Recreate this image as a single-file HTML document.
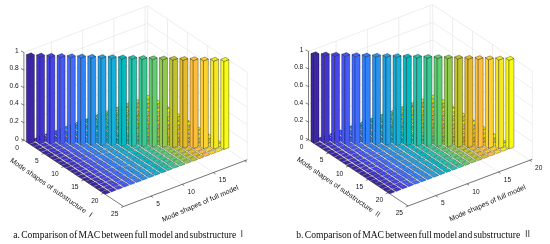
<!DOCTYPE html>
<html><head><meta charset="utf-8"><title>MAC comparison</title>
<style>html,body{margin:0;padding:0;background:#fff}svg{display:block}</style></head>
<body>
<svg width="550" height="244" viewBox="0 0 550 244">
<rect width="550" height="244" fill="#fff"/>
<g fill="none" stroke="#dcdcdc" stroke-width="0.5">
<path d="M51.39 42.12L51.39 129.82L150.99 196.12"/>
<path d="M82.63 30.33L82.63 118.03L182.23 184.33"/>
<path d="M113.86 18.54L113.86 106.24L213.46 172.54"/>
<path d="M145.10 6.74L145.10 94.44L244.70 160.74"/>
<path d="M147.60 5.80L147.60 93.50L23.90 140.20"/>
<path d="M167.52 19.06L167.52 106.76L43.82 153.46"/>
<path d="M187.44 32.32L187.44 120.02L63.74 166.72"/>
<path d="M207.36 45.58L207.36 133.28L83.66 179.98"/>
<path d="M227.28 58.84L227.28 146.54L103.58 193.24"/>
<path d="M247.20 72.10L247.20 159.80L123.50 206.50"/>
<path d="M23.90 122.66L147.60 75.96L247.20 142.26"/>
<path d="M23.90 105.12L147.60 58.42L247.20 124.72"/>
<path d="M23.90 87.58L147.60 40.88L247.20 107.18"/>
<path d="M23.90 70.04L147.60 23.34L247.20 89.64"/>
<path d="M23.90 52.50L147.60 5.80L247.20 72.10"/>
</g>
<g stroke="#000" stroke-linejoin="round">
<polygon fill="#f9fb15" stroke-width="0.36" stroke-opacity="0.90" points="145.05,96.95 148.24,99.08 153.12,97.24 153.12,96.87 149.93,94.75 145.05,96.59"/>
<polygon fill="#f5e725" stroke-width="0.36" stroke-opacity="0.90" points="138.81,99.31 141.99,101.43 146.87,99.59 146.87,99.21 143.68,97.09 138.81,98.93"/>
<polygon fill="#fbd22f" stroke-width="0.36" stroke-opacity="0.90" points="132.56,101.67 135.75,103.79 140.62,101.95 140.62,101.76 137.43,99.64 132.56,101.48"/>
<polygon fill="#febe3c" stroke-width="0.36" stroke-opacity="0.90" points="126.31,104.03 129.50,106.15 134.37,104.31 134.37,103.99 131.19,101.87 126.31,103.71"/>
<polygon fill="#e4bb2c" stroke-width="0.36" stroke-opacity="0.90" points="120.06,106.39 123.25,108.51 128.13,106.67 128.13,106.42 124.94,104.30 120.06,106.14"/>
<polygon fill="#bec32e" stroke-width="0.36" stroke-opacity="0.90" points="113.82,108.75 117.00,110.87 121.88,109.03 121.88,108.90 118.69,106.78 113.82,108.62"/>
<polygon fill="#91ca4c" stroke-width="0.36" stroke-opacity="0.90" points="107.57,111.11 110.76,113.23 115.63,111.39 115.63,111.06 112.44,108.93 107.57,110.77"/>
<polygon fill="#61cd71" stroke-width="0.36" stroke-opacity="0.90" points="101.32,113.46 104.51,115.59 109.38,113.75 109.38,113.50 106.20,111.38 101.32,113.22"/>
<polygon fill="#3bc993" stroke-width="0.36" stroke-opacity="0.90" points="95.08,115.82 98.26,117.94 103.14,116.11 103.14,115.75 99.95,113.63 95.08,115.47"/>
<polygon fill="#25c2ad" stroke-width="0.36" stroke-opacity="0.90" points="88.83,118.18 92.01,120.30 96.89,118.46 96.89,118.32 93.70,116.20 88.83,118.04"/>
<polygon fill="#02bac4" stroke-width="0.36" stroke-opacity="0.90" points="82.58,120.54 85.77,122.66 90.64,120.82 90.64,120.67 87.45,118.54 82.58,120.38"/>
<polygon fill="#15afd9" stroke-width="0.36" stroke-opacity="0.90" points="76.33,122.90 79.52,125.02 84.39,123.18 84.39,122.84 81.21,120.72 76.33,122.56"/>
<polygon fill="#22a1e4" stroke-width="0.36" stroke-opacity="0.90" points="70.09,125.26 73.27,127.38 78.15,125.54 78.15,125.24 74.96,123.11 70.09,124.95"/>
<polygon fill="#2b91ef" stroke-width="0.36" stroke-opacity="0.90" points="63.84,127.62 67.02,129.74 71.90,127.90 71.90,127.65 68.71,125.53 63.84,127.37"/>
<polygon fill="#307ffb" stroke-width="0.36" stroke-opacity="0.90" points="57.59,129.97 60.78,132.10 65.65,130.26 65.65,129.99 62.46,127.87 57.59,129.71"/>
<polygon fill="#416bfe" stroke-width="0.36" stroke-opacity="0.90" points="51.34,132.33 54.53,134.45 59.40,132.62 59.40,132.42 56.22,130.29 51.34,132.13"/>
<polygon fill="#4758f8" stroke-width="0.36" stroke-opacity="0.90" points="45.10,134.69 48.28,136.81 53.16,134.97 53.16,134.64 49.97,132.52 45.10,134.36"/>
<polygon fill="#4745e9" stroke-width="0.36" stroke-opacity="0.90" points="38.85,137.05 42.04,139.17 46.91,137.33 46.91,136.98 43.72,134.86 38.85,136.70"/>
<polygon fill="#4434ce" stroke-width="0.36" stroke-opacity="0.90" points="32.60,139.41 35.79,141.53 40.66,139.69 40.66,139.52 37.47,137.40 32.60,139.24"/>
<g fill="#3e26a8" stroke-width="0.36" stroke-opacity="0.90"><polygon points="26.35,141.77 29.54,143.89 29.54,56.80 26.35,54.68"/><polygon points="29.54,143.89 34.41,142.05 34.41,54.96 29.54,56.80"/><polygon points="26.35,54.68 29.54,56.80 34.41,54.96 31.23,52.84"/></g>
<polygon fill="#f9fb15" stroke-width="0.36" stroke-opacity="0.90" points="149.04,99.61 152.23,101.73 157.10,99.89 157.10,99.61 153.91,97.49 149.04,99.33"/>
<polygon fill="#f5e725" stroke-width="0.36" stroke-opacity="0.90" points="142.79,101.97 145.98,104.09 150.85,102.25 150.85,101.90 147.66,99.77 142.79,101.61"/>
<polygon fill="#fbd22f" stroke-width="0.36" stroke-opacity="0.90" points="136.54,104.32 139.73,106.45 144.60,104.61 144.60,104.47 141.42,102.35 136.54,104.19"/>
<polygon fill="#febe3c" stroke-width="0.36" stroke-opacity="0.90" points="130.30,106.68 133.48,108.80 138.36,106.96 138.36,106.76 135.17,104.63 130.30,106.47"/>
<polygon fill="#e4bb2c" stroke-width="0.36" stroke-opacity="0.90" points="124.05,109.04 127.24,111.16 132.11,109.32 132.11,109.07 128.92,106.95 124.05,108.79"/>
<polygon fill="#bec32e" stroke-width="0.36" stroke-opacity="0.90" points="117.80,111.40 120.99,113.52 125.86,111.68 125.86,111.49 122.67,109.37 117.80,111.21"/>
<polygon fill="#91ca4c" stroke-width="0.36" stroke-opacity="0.90" points="111.55,113.76 114.74,115.88 119.61,114.04 119.61,113.85 116.43,111.73 111.55,113.57"/>
<polygon fill="#61cd71" stroke-width="0.36" stroke-opacity="0.90" points="105.31,116.12 108.49,118.24 113.37,116.40 113.37,116.21 110.18,114.08 105.31,115.92"/>
<polygon fill="#3bc993" stroke-width="0.36" stroke-opacity="0.90" points="99.06,118.48 102.25,120.60 107.12,118.76 107.12,118.50 103.93,116.37 99.06,118.21"/>
<polygon fill="#25c2ad" stroke-width="0.36" stroke-opacity="0.90" points="92.81,120.83 96.00,122.96 100.87,121.12 100.87,120.87 97.68,118.75 92.81,120.59"/>
<polygon fill="#02bac4" stroke-width="0.36" stroke-opacity="0.90" points="86.56,123.19 89.75,125.31 94.62,123.47 94.62,123.28 91.44,121.16 86.56,123.00"/>
<polygon fill="#15afd9" stroke-width="0.36" stroke-opacity="0.90" points="80.32,125.55 83.50,127.67 88.38,125.83 88.38,125.69 85.19,123.57 80.32,125.41"/>
<polygon fill="#22a1e4" stroke-width="0.36" stroke-opacity="0.90" points="74.07,127.91 77.26,130.03 82.13,128.19 82.13,127.95 78.94,125.83 74.07,127.67"/>
<polygon fill="#2b91ef" stroke-width="0.36" stroke-opacity="0.90" points="67.82,130.27 71.01,132.39 75.88,130.55 75.88,130.36 72.69,128.24 67.82,130.08"/>
<polygon fill="#307ffb" stroke-width="0.36" stroke-opacity="0.90" points="61.57,132.63 64.76,134.75 69.63,132.91 69.63,132.68 66.45,130.56 61.57,132.39"/>
<polygon fill="#416bfe" stroke-width="0.36" stroke-opacity="0.90" points="55.33,134.99 58.51,137.11 63.39,135.27 63.39,134.89 60.20,132.77 55.33,134.61"/>
<polygon fill="#4758f8" stroke-width="0.36" stroke-opacity="0.90" points="49.08,137.34 52.27,139.47 57.14,137.63 57.14,137.35 53.95,135.23 49.08,137.07"/>
<polygon fill="#4745e9" stroke-width="0.36" stroke-opacity="0.90" points="42.83,139.70 46.02,141.82 50.89,139.98 50.89,139.85 47.70,137.72 42.83,139.56"/>
<g fill="#4434ce" stroke-width="0.36" stroke-opacity="0.90"><polygon points="36.58,142.06 39.77,144.18 39.77,57.05 36.58,54.92"/><polygon points="39.77,144.18 44.64,142.34 44.64,55.21 39.77,57.05"/><polygon points="36.58,54.92 39.77,57.05 44.64,55.21 41.46,53.08"/></g>
<polygon fill="#3e26a8" stroke-width="0.30" stroke-opacity="0.90" points="30.34,144.42 33.52,146.54 38.40,144.70 38.40,144.56 35.21,142.44 30.34,144.28"/>
<polygon fill="#f9fb15" stroke-width="0.36" stroke-opacity="0.90" points="153.02,102.26 156.21,104.38 161.08,102.54 161.08,102.40 157.90,100.28 153.02,102.12"/>
<polygon fill="#f5e725" stroke-width="0.36" stroke-opacity="0.90" points="146.78,104.62 149.96,106.74 154.84,104.90 154.84,104.61 151.65,102.49 146.78,104.33"/>
<polygon fill="#fbd22f" stroke-width="0.36" stroke-opacity="0.90" points="140.53,106.98 143.72,109.10 148.59,107.26 148.59,106.99 145.40,104.87 140.53,106.71"/>
<polygon fill="#febe3c" stroke-width="0.36" stroke-opacity="0.90" points="134.28,109.33 137.47,111.46 142.34,109.62 142.34,109.26 139.15,107.14 134.28,108.98"/>
<polygon fill="#e4bb2c" stroke-width="0.36" stroke-opacity="0.90" points="128.03,111.69 131.22,113.81 136.09,111.97 136.09,111.61 132.91,109.49 128.03,111.33"/>
<polygon fill="#bec32e" stroke-width="0.36" stroke-opacity="0.90" points="121.79,114.05 124.97,116.17 129.85,114.33 129.85,114.05 126.66,111.93 121.79,113.77"/>
<polygon fill="#91ca4c" stroke-width="0.36" stroke-opacity="0.90" points="115.54,116.41 118.73,118.53 123.60,116.69 123.60,116.48 120.41,114.36 115.54,116.20"/>
<polygon fill="#61cd71" stroke-width="0.36" stroke-opacity="0.90" points="109.29,118.77 112.48,120.89 117.35,119.05 117.35,118.74 114.16,116.62 109.29,118.46"/>
<polygon fill="#3bc993" stroke-width="0.36" stroke-opacity="0.90" points="103.04,121.13 106.23,123.25 111.10,121.41 111.10,121.06 107.92,118.94 103.04,120.78"/>
<polygon fill="#25c2ad" stroke-width="0.36" stroke-opacity="0.90" points="96.80,123.49 99.98,125.61 104.86,123.77 104.86,123.53 101.67,121.40 96.80,123.24"/>
<polygon fill="#02bac4" stroke-width="0.36" stroke-opacity="0.90" points="90.55,125.84 93.74,127.97 98.61,126.13 98.61,125.75 95.42,123.63 90.55,125.47"/>
<polygon fill="#15afd9" stroke-width="0.36" stroke-opacity="0.90" points="84.30,128.20 87.49,130.32 92.36,128.48 92.36,128.17 89.17,126.04 84.30,127.88"/>
<polygon fill="#22a1e4" stroke-width="0.36" stroke-opacity="0.90" points="78.05,130.56 81.24,132.68 86.11,130.84 86.11,130.52 82.93,128.40 78.05,130.24"/>
<polygon fill="#2b91ef" stroke-width="0.36" stroke-opacity="0.90" points="71.81,132.92 74.99,135.04 79.87,133.20 79.87,132.98 76.68,130.86 71.81,132.70"/>
<polygon fill="#307ffb" stroke-width="0.36" stroke-opacity="0.90" points="65.56,135.28 68.75,137.40 73.62,135.56 73.62,135.40 70.43,133.28 65.56,135.12"/>
<polygon fill="#416bfe" stroke-width="0.36" stroke-opacity="0.90" points="59.31,137.64 62.50,139.76 67.37,137.92 67.37,137.56 64.18,135.44 59.31,137.28"/>
<polygon fill="#4758f8" stroke-width="0.36" stroke-opacity="0.90" points="53.06,140.00 56.25,142.12 61.12,140.28 61.12,139.89 57.94,137.76 53.06,139.60"/>
<g fill="#4745e9" stroke-width="0.36" stroke-opacity="0.90"><polygon points="46.82,142.35 50.00,144.48 50.00,57.29 46.82,55.17"/><polygon points="50.00,144.48 54.88,142.64 54.88,55.45 50.00,57.29"/><polygon points="46.82,55.17 50.00,57.29 54.88,55.45 51.69,53.33"/></g>
<polygon fill="#4434ce" stroke-width="0.30" stroke-opacity="0.90" points="40.57,144.71 43.76,146.83 48.63,144.99 48.63,144.81 45.44,142.69 40.57,144.53"/>
<polygon fill="#3e26a8" stroke-width="0.30" stroke-opacity="0.90" points="34.32,147.07 37.51,149.19 42.38,147.35 42.38,147.05 39.19,144.93 34.32,146.77"/>
<polygon fill="#f9fb15" stroke-width="0.36" stroke-opacity="0.90" points="157.01,104.91 160.19,107.03 165.07,105.19 165.07,104.90 161.88,102.78 157.01,104.62"/>
<polygon fill="#f5e725" stroke-width="0.36" stroke-opacity="0.90" points="150.76,107.27 153.95,109.39 158.82,107.55 158.82,107.16 155.63,105.04 150.76,106.88"/>
<polygon fill="#fbd22f" stroke-width="0.36" stroke-opacity="0.90" points="144.51,109.63 147.70,111.75 152.57,109.91 152.57,109.59 149.38,107.47 144.51,109.31"/>
<polygon fill="#febe3c" stroke-width="0.36" stroke-opacity="0.90" points="138.26,111.99 141.45,114.11 146.32,112.27 146.32,112.13 143.14,110.00 138.26,111.84"/>
<polygon fill="#e4bb2c" stroke-width="0.36" stroke-opacity="0.90" points="132.02,114.34 135.20,116.47 140.08,114.63 140.08,114.49 136.89,112.37 132.02,114.21"/>
<polygon fill="#bec32e" stroke-width="0.36" stroke-opacity="0.90" points="125.77,116.70 128.96,118.83 133.83,116.99 133.83,116.72 130.64,114.60 125.77,116.44"/>
<polygon fill="#91ca4c" stroke-width="0.36" stroke-opacity="0.90" points="119.52,119.06 122.71,121.18 127.58,119.34 127.58,119.11 124.40,116.99 119.52,118.83"/>
<polygon fill="#61cd71" stroke-width="0.36" stroke-opacity="0.90" points="113.27,121.42 116.46,123.54 121.33,121.70 121.33,121.43 118.15,119.31 113.27,121.15"/>
<polygon fill="#3bc993" stroke-width="0.36" stroke-opacity="0.90" points="107.03,123.78 110.21,125.90 115.09,124.06 115.09,123.72 111.90,121.60 107.03,123.44"/>
<polygon fill="#25c2ad" stroke-width="0.36" stroke-opacity="0.90" points="100.78,126.14 103.97,128.26 108.84,126.42 108.84,126.15 105.65,124.03 100.78,125.87"/>
<polygon fill="#02bac4" stroke-width="0.36" stroke-opacity="0.90" points="94.53,128.50 97.72,130.62 102.59,128.78 102.59,128.53 99.41,126.41 94.53,128.25"/>
<polygon fill="#15afd9" stroke-width="0.36" stroke-opacity="0.90" points="88.28,130.85 91.47,132.98 96.34,131.14 96.34,130.91 93.16,128.79 88.28,130.62"/>
<polygon fill="#22a1e4" stroke-width="0.36" stroke-opacity="0.90" points="82.04,133.21 85.22,135.34 90.10,133.50 90.10,133.19 86.91,131.06 82.04,132.90"/>
<polygon fill="#2b91ef" stroke-width="0.36" stroke-opacity="0.90" points="75.79,135.57 78.98,137.69 83.85,135.85 83.85,135.54 80.66,133.42 75.79,135.26"/>
<polygon fill="#307ffb" stroke-width="0.36" stroke-opacity="0.90" points="69.54,137.93 72.73,140.05 77.60,138.21 77.60,137.94 74.42,135.82 69.54,137.65"/>
<polygon fill="#416bfe" stroke-width="0.36" stroke-opacity="0.90" points="63.29,140.29 66.48,142.41 71.36,140.57 71.36,140.39 68.17,138.27 63.29,140.11"/>
<g fill="#4758f8" stroke-width="0.36" stroke-opacity="0.90"><polygon points="57.05,142.65 60.23,144.77 60.23,57.53 57.05,55.41"/><polygon points="60.23,144.77 65.11,142.93 65.11,55.69 60.23,57.53"/><polygon points="57.05,55.41 60.23,57.53 65.11,55.69 61.92,53.57"/></g>
<polygon fill="#4745e9" stroke-width="0.30" stroke-opacity="0.90" points="50.80,145.01 53.99,147.13 58.86,145.29 58.86,145.05 55.67,142.93 50.80,144.77"/>
<polygon fill="#4434ce" stroke-width="0.30" stroke-opacity="0.90" points="44.55,147.37 47.74,149.49 52.61,147.65 52.61,147.31 49.43,145.18 44.55,147.02"/>
<polygon fill="#3e26a8" stroke-width="0.30" stroke-opacity="0.90" points="38.30,149.72 41.49,151.85 46.37,150.01 46.37,149.81 43.18,147.69 38.30,149.53"/>
<polygon fill="#f9fb15" stroke-width="0.36" stroke-opacity="0.90" points="160.99,107.56 164.18,109.68 169.05,107.84 169.05,107.48 165.86,105.36 160.99,107.20"/>
<polygon fill="#f5e725" stroke-width="0.36" stroke-opacity="0.90" points="154.74,109.92 157.93,112.04 162.80,110.20 162.80,109.86 159.62,107.73 154.74,109.57"/>
<polygon fill="#fbd22f" stroke-width="0.36" stroke-opacity="0.90" points="148.50,112.28 151.68,114.40 156.56,112.56 156.56,112.22 153.37,110.10 148.50,111.94"/>
<polygon fill="#febe3c" stroke-width="0.36" stroke-opacity="0.90" points="142.25,114.64 145.44,116.76 150.31,114.92 150.31,114.79 147.12,112.67 142.25,114.51"/>
<polygon fill="#e4bb2c" stroke-width="0.36" stroke-opacity="0.90" points="136.00,117.00 139.19,119.12 144.06,117.28 144.06,116.90 140.87,114.77 136.00,116.61"/>
<polygon fill="#bec32e" stroke-width="0.36" stroke-opacity="0.90" points="129.75,119.36 132.94,121.48 137.81,119.64 137.81,119.36 134.63,117.24 129.75,119.08"/>
<polygon fill="#91ca4c" stroke-width="0.36" stroke-opacity="0.90" points="123.51,121.71 126.69,123.84 131.57,122.00 131.57,121.79 128.38,119.67 123.51,121.51"/>
<polygon fill="#61cd71" stroke-width="0.36" stroke-opacity="0.90" points="117.26,124.07 120.45,126.19 125.32,124.35 125.32,124.10 122.13,121.98 117.26,123.82"/>
<polygon fill="#3bc993" stroke-width="0.36" stroke-opacity="0.90" points="111.01,126.43 114.20,128.55 119.07,126.71 119.07,126.43 115.88,124.31 111.01,126.15"/>
<polygon fill="#25c2ad" stroke-width="0.36" stroke-opacity="0.90" points="104.76,128.79 107.95,130.91 112.82,129.07 112.82,128.69 109.64,126.57 104.76,128.41"/>
<polygon fill="#02bac4" stroke-width="0.36" stroke-opacity="0.90" points="98.52,131.15 101.70,133.27 106.58,131.43 106.58,131.16 103.39,129.04 98.52,130.88"/>
<polygon fill="#15afd9" stroke-width="0.36" stroke-opacity="0.90" points="92.27,133.51 95.46,135.63 100.33,133.79 100.33,133.60 97.14,131.47 92.27,133.31"/>
<polygon fill="#22a1e4" stroke-width="0.36" stroke-opacity="0.90" points="86.02,135.87 89.21,137.99 94.08,136.15 94.08,135.79 90.89,133.67 86.02,135.51"/>
<polygon fill="#2b91ef" stroke-width="0.36" stroke-opacity="0.90" points="79.77,138.22 82.96,140.35 87.83,138.51 87.83,138.23 84.65,136.11 79.77,137.95"/>
<polygon fill="#307ffb" stroke-width="0.36" stroke-opacity="0.90" points="73.53,140.58 76.71,142.70 81.59,140.86 81.59,140.53 78.40,138.41 73.53,140.25"/>
<g fill="#416bfe" stroke-width="0.36" stroke-opacity="0.90"><polygon points="67.28,142.94 70.47,145.06 70.47,57.77 67.28,55.65"/><polygon points="70.47,145.06 75.34,143.22 75.34,55.93 70.47,57.77"/><polygon points="67.28,55.65 70.47,57.77 75.34,55.93 72.15,53.81"/></g>
<polygon fill="#4758f8" stroke-width="0.30" stroke-opacity="0.90" points="61.03,145.30 64.22,147.42 69.09,145.58 69.09,145.19 65.90,143.07 61.03,144.91"/>
<polygon fill="#4745e9" stroke-width="0.30" stroke-opacity="0.90" points="54.78,147.66 57.97,149.78 62.84,147.94 62.84,147.68 59.66,145.56 54.78,147.39"/>
<polygon fill="#4434ce" stroke-width="0.30" stroke-opacity="0.90" points="48.54,150.02 51.72,152.14 56.60,150.30 56.60,150.12 53.41,148.00 48.54,149.84"/>
<polygon fill="#3e26a8" stroke-width="0.30" stroke-opacity="0.90" points="42.29,152.38 45.48,154.50 50.35,152.66 50.35,152.42 47.16,150.30 42.29,152.14"/>
<polygon fill="#f9fb15" stroke-width="0.36" stroke-opacity="0.90" points="164.97,110.21 168.16,112.34 173.04,110.50 173.04,110.30 169.85,108.18 164.97,110.02"/>
<polygon fill="#f5e725" stroke-width="0.36" stroke-opacity="0.90" points="158.73,112.57 161.91,114.69 166.79,112.85 166.79,112.72 163.60,110.59 158.73,112.43"/>
<polygon fill="#fbd22f" stroke-width="0.36" stroke-opacity="0.90" points="152.48,114.93 155.67,117.05 160.54,115.21 160.54,114.96 157.35,112.84 152.48,114.68"/>
<polygon fill="#febe3c" stroke-width="0.36" stroke-opacity="0.90" points="146.23,117.29 149.42,119.41 154.29,117.57 154.29,117.28 151.11,115.16 146.23,117.00"/>
<polygon fill="#e4bb2c" stroke-width="0.36" stroke-opacity="0.90" points="139.98,119.65 143.17,121.77 148.05,119.93 148.05,119.64 144.86,117.51 139.98,119.35"/>
<polygon fill="#bec32e" stroke-width="0.36" stroke-opacity="0.90" points="133.74,122.01 136.92,124.13 141.80,122.29 141.80,122.02 138.61,119.89 133.74,121.73"/>
<polygon fill="#91ca4c" stroke-width="0.36" stroke-opacity="0.90" points="127.49,124.37 130.68,126.49 135.55,124.65 135.55,124.43 132.36,122.30 127.49,124.14"/>
<polygon fill="#61cd71" stroke-width="0.36" stroke-opacity="0.90" points="121.24,126.72 124.43,128.85 129.30,127.01 129.30,126.78 126.12,124.66 121.24,126.50"/>
<polygon fill="#3bc993" stroke-width="0.36" stroke-opacity="0.90" points="115.00,129.08 118.18,131.20 123.06,129.37 123.06,129.11 119.87,126.98 115.00,128.82"/>
<polygon fill="#25c2ad" stroke-width="0.36" stroke-opacity="0.90" points="108.75,131.44 111.93,133.56 116.81,131.72 116.81,131.46 113.62,129.34 108.75,131.18"/>
<polygon fill="#02bac4" stroke-width="0.36" stroke-opacity="0.90" points="102.50,133.80 105.69,135.92 110.56,134.08 110.56,133.90 107.37,131.78 102.50,133.62"/>
<polygon fill="#15afd9" stroke-width="0.36" stroke-opacity="0.90" points="96.25,136.16 99.44,138.28 104.31,136.44 104.31,136.16 101.13,134.04 96.25,135.88"/>
<polygon fill="#22a1e4" stroke-width="0.36" stroke-opacity="0.90" points="90.01,138.52 93.19,140.64 98.07,138.80 98.07,138.44 94.88,136.32 90.01,138.16"/>
<polygon fill="#2b91ef" stroke-width="0.36" stroke-opacity="0.90" points="83.76,140.88 86.94,143.00 91.82,141.16 91.82,141.01 88.63,138.89 83.76,140.73"/>
<g fill="#307ffb" stroke-width="0.36" stroke-opacity="0.90"><polygon points="77.51,143.23 80.70,145.36 80.70,58.02 77.51,55.89"/><polygon points="80.70,145.36 85.57,143.52 85.57,56.18 80.70,58.02"/><polygon points="77.51,55.89 80.70,58.02 85.57,56.18 82.38,54.06"/></g>
<polygon fill="#416bfe" stroke-width="0.30" stroke-opacity="0.90" points="71.26,145.59 74.45,147.71 79.32,145.88 79.32,145.63 76.14,143.51 71.26,145.35"/>
<polygon fill="#4758f8" stroke-width="0.30" stroke-opacity="0.90" points="65.02,147.95 68.20,150.07 73.08,148.23 73.08,147.95 69.89,145.83 65.02,147.67"/>
<polygon fill="#4745e9" stroke-width="0.30" stroke-opacity="0.90" points="58.77,150.31 61.96,152.43 66.83,150.59 66.83,150.32 63.64,148.20 58.77,150.04"/>
<polygon fill="#4434ce" stroke-width="0.30" stroke-opacity="0.90" points="52.52,152.67 55.71,154.79 60.58,152.95 60.58,152.61 57.39,150.48 52.52,152.32"/>
<polygon fill="#3e26a8" stroke-width="0.30" stroke-opacity="0.90" points="46.27,155.03 49.46,157.15 54.33,155.31 54.33,154.98 51.15,152.86 46.27,154.70"/>
<polygon fill="#f9fb15" stroke-width="0.36" stroke-opacity="0.90" points="168.96,112.87 172.15,114.99 177.02,113.15 177.02,112.97 173.83,110.85 168.96,112.69"/>
<polygon fill="#f5e725" stroke-width="0.36" stroke-opacity="0.90" points="162.71,115.23 165.90,117.35 170.77,115.51 170.77,115.36 167.58,113.24 162.71,115.08"/>
<polygon fill="#fbd22f" stroke-width="0.36" stroke-opacity="0.90" points="156.46,117.58 159.65,119.71 164.52,117.87 164.52,117.64 161.34,115.52 156.46,117.36"/>
<polygon fill="#febe3c" stroke-width="0.36" stroke-opacity="0.90" points="150.22,119.94 153.40,122.06 158.28,120.22 158.28,119.93 155.09,117.81 150.22,119.65"/>
<polygon fill="#e4bb2c" stroke-width="0.36" stroke-opacity="0.90" points="143.97,122.30 147.16,124.42 152.03,122.58 152.03,122.42 148.84,120.30 143.97,122.14"/>
<polygon fill="#bec32e" stroke-width="0.36" stroke-opacity="0.90" points="137.72,124.66 140.91,126.78 145.78,124.94 145.78,124.74 142.59,122.62 137.72,124.46"/>
<polygon fill="#91ca4c" stroke-width="0.36" stroke-opacity="0.90" points="131.47,127.02 134.66,129.14 139.53,127.30 139.53,126.97 136.35,124.85 131.47,126.69"/>
<polygon fill="#61cd71" stroke-width="0.36" stroke-opacity="0.90" points="125.23,129.38 128.41,131.50 133.29,129.66 133.29,129.52 130.10,127.40 125.23,129.24"/>
<polygon fill="#3bc993" stroke-width="0.36" stroke-opacity="0.90" points="118.98,131.74 122.17,133.86 127.04,132.02 127.04,131.88 123.85,129.76 118.98,131.60"/>
<polygon fill="#25c2ad" stroke-width="0.36" stroke-opacity="0.90" points="112.73,134.09 115.92,136.22 120.79,134.38 120.79,134.22 117.60,132.10 112.73,133.94"/>
<polygon fill="#02bac4" stroke-width="0.36" stroke-opacity="0.90" points="106.48,136.45 109.67,138.57 114.54,136.73 114.54,136.43 111.36,134.30 106.48,136.14"/>
<polygon fill="#15afd9" stroke-width="0.36" stroke-opacity="0.90" points="100.24,138.81 103.42,140.93 108.30,139.09 108.30,138.74 105.11,136.62 100.24,138.46"/>
<polygon fill="#22a1e4" stroke-width="0.36" stroke-opacity="0.90" points="93.99,141.17 97.18,143.29 102.05,141.45 102.05,141.25 98.86,139.13 93.99,140.97"/>
<g fill="#2b91ef" stroke-width="0.36" stroke-opacity="0.90"><polygon points="87.74,143.53 90.93,145.65 90.93,58.26 87.74,56.14"/><polygon points="90.93,145.65 95.80,143.81 95.80,56.42 90.93,58.26"/><polygon points="87.74,56.14 90.93,58.26 95.80,56.42 92.61,54.30"/></g>
<polygon fill="#307ffb" stroke-width="0.30" stroke-opacity="0.90" points="81.49,145.89 84.68,148.01 89.55,146.17 89.55,145.82 86.37,143.70 81.49,145.54"/>
<polygon fill="#416bfe" stroke-width="0.30" stroke-opacity="0.90" points="75.25,148.25 78.43,150.37 83.31,148.53 83.31,148.19 80.12,146.06 75.25,147.90"/>
<polygon fill="#4758f8" stroke-width="0.30" stroke-opacity="0.90" points="69.00,150.60 72.19,152.73 77.06,150.89 77.06,150.54 73.87,148.42 69.00,150.26"/>
<polygon fill="#4745e9" stroke-width="0.30" stroke-opacity="0.90" points="62.75,152.96 65.94,155.08 70.81,153.24 70.81,152.89 67.62,150.76 62.75,152.60"/>
<polygon fill="#4434ce" stroke-width="0.30" stroke-opacity="0.90" points="56.50,155.32 59.69,157.44 64.56,155.60 64.56,155.32 61.38,153.20 56.50,155.04"/>
<polygon fill="#3e26a8" stroke-width="0.30" stroke-opacity="0.90" points="50.26,157.68 53.44,159.80 58.32,157.96 58.32,157.78 55.13,155.66 50.26,157.50"/>
<polygon fill="#f9fb15" stroke-width="0.36" stroke-opacity="0.90" points="172.94,115.52 176.13,117.64 181.00,115.80 181.00,115.66 177.82,113.54 172.94,115.38"/>
<polygon fill="#f5e725" stroke-width="0.36" stroke-opacity="0.90" points="166.70,117.88 169.88,120.00 174.76,118.16 174.76,118.02 171.57,115.90 166.70,117.74"/>
<polygon fill="#fbd22f" stroke-width="0.36" stroke-opacity="0.90" points="160.45,120.24 163.64,122.36 168.51,120.52 168.51,120.17 165.32,118.05 160.45,119.89"/>
<polygon fill="#febe3c" stroke-width="0.36" stroke-opacity="0.90" points="154.20,122.59 157.39,124.72 162.26,122.88 162.26,122.59 159.07,120.46 154.20,122.30"/>
<polygon fill="#e4bb2c" stroke-width="0.36" stroke-opacity="0.90" points="147.95,124.95 151.14,127.07 156.01,125.23 156.01,125.05 152.83,122.93 147.95,124.77"/>
<polygon fill="#bec32e" stroke-width="0.36" stroke-opacity="0.90" points="141.71,127.31 144.89,129.43 149.77,127.59 149.77,127.33 146.58,125.21 141.71,127.05"/>
<polygon fill="#91ca4c" stroke-width="0.36" stroke-opacity="0.90" points="135.46,129.67 138.65,131.79 143.52,129.95 143.52,129.58 140.33,127.46 135.46,129.30"/>
<polygon fill="#61cd71" stroke-width="0.36" stroke-opacity="0.90" points="129.21,132.03 132.40,134.15 137.27,132.31 137.27,132.15 134.08,130.03 129.21,131.87"/>
<polygon fill="#3bc993" stroke-width="0.36" stroke-opacity="0.90" points="122.96,134.39 126.15,136.51 131.02,134.67 131.02,134.49 127.84,132.37 122.96,134.21"/>
<polygon fill="#25c2ad" stroke-width="0.36" stroke-opacity="0.90" points="116.72,136.75 119.90,138.87 124.78,137.03 124.78,136.79 121.59,134.66 116.72,136.50"/>
<polygon fill="#02bac4" stroke-width="0.36" stroke-opacity="0.90" points="110.47,139.10 113.66,141.23 118.53,139.39 118.53,139.15 115.34,137.03 110.47,138.87"/>
<polygon fill="#15afd9" stroke-width="0.36" stroke-opacity="0.90" points="104.22,141.46 107.41,143.58 112.28,141.74 112.28,141.61 109.09,139.49 104.22,141.33"/>
<g fill="#22a1e4" stroke-width="0.36" stroke-opacity="0.90"><polygon points="97.97,143.82 101.16,145.94 101.16,58.50 97.97,56.38"/><polygon points="101.16,145.94 106.03,144.10 106.03,56.66 101.16,58.50"/><polygon points="97.97,56.38 101.16,58.50 106.03,56.66 102.85,54.54"/></g>
<polygon fill="#2b91ef" stroke-width="0.30" stroke-opacity="0.90" points="91.73,146.18 94.91,148.30 99.79,146.46 99.79,146.21 96.60,144.08 91.73,145.92"/>
<polygon fill="#307ffb" stroke-width="0.30" stroke-opacity="0.90" points="85.48,148.54 88.67,150.66 93.54,148.82 93.54,148.60 90.35,146.48 85.48,148.32"/>
<polygon fill="#416bfe" stroke-width="0.30" stroke-opacity="0.90" points="79.23,150.90 82.42,153.02 87.29,151.18 87.29,150.93 84.10,148.81 79.23,150.65"/>
<polygon fill="#4758f8" stroke-width="0.30" stroke-opacity="0.90" points="72.98,153.26 76.17,155.38 81.04,153.54 81.04,153.22 77.86,151.10 72.98,152.94"/>
<polygon fill="#4745e9" stroke-width="0.30" stroke-opacity="0.90" points="66.74,155.61 69.92,157.74 74.80,155.90 74.80,155.69 71.61,153.57 66.74,155.41"/>
<polygon fill="#4434ce" stroke-width="0.30" stroke-opacity="0.90" points="60.49,157.97 63.68,160.09 68.55,158.25 68.55,158.08 65.36,155.96 60.49,157.80"/>
<polygon fill="#3e26a8" stroke-width="0.30" stroke-opacity="0.90" points="54.24,160.33 57.43,162.45 62.30,160.61 62.30,160.34 59.11,158.22 54.24,160.06"/>
<polygon fill="#f9fb15" stroke-width="0.36" stroke-opacity="0.90" points="176.93,118.17 180.11,120.29 184.99,118.45 184.99,118.07 181.80,115.94 176.93,117.78"/>
<polygon fill="#f5e725" stroke-width="0.36" stroke-opacity="0.90" points="170.68,120.53 173.87,122.65 178.74,120.81 178.74,120.60 175.55,118.48 170.68,120.32"/>
<polygon fill="#fbd22f" stroke-width="0.36" stroke-opacity="0.90" points="164.43,122.89 167.62,125.01 172.49,123.17 172.49,123.02 169.30,120.90 164.43,122.74"/>
<polygon fill="#febe3c" stroke-width="0.36" stroke-opacity="0.90" points="158.18,125.25 161.37,127.37 166.24,125.53 166.24,125.23 163.06,123.11 158.18,124.95"/>
<polygon fill="#e4bb2c" stroke-width="0.36" stroke-opacity="0.90" points="151.94,127.60 155.12,129.73 160.00,127.89 160.00,127.67 156.81,125.55 151.94,127.39"/>
<polygon fill="#bec32e" stroke-width="0.36" stroke-opacity="0.90" points="145.69,129.96 148.88,132.09 153.75,130.25 153.75,129.96 150.56,127.84 145.69,129.68"/>
<polygon fill="#91ca4c" stroke-width="0.36" stroke-opacity="0.90" points="139.44,132.32 142.63,134.44 147.50,132.60 147.50,132.37 144.32,130.25 139.44,132.09"/>
<polygon fill="#61cd71" stroke-width="0.36" stroke-opacity="0.90" points="133.19,134.68 136.38,136.80 141.25,134.96 141.25,134.66 138.07,132.54 133.19,134.38"/>
<polygon fill="#3bc993" stroke-width="0.36" stroke-opacity="0.90" points="126.95,137.04 130.13,139.16 135.01,137.32 135.01,137.13 131.82,135.01 126.95,136.85"/>
<polygon fill="#25c2ad" stroke-width="0.36" stroke-opacity="0.90" points="120.70,139.40 123.89,141.52 128.76,139.68 128.76,139.41 125.57,137.29 120.70,139.13"/>
<polygon fill="#02bac4" stroke-width="0.36" stroke-opacity="0.90" points="114.45,141.76 117.64,143.88 122.51,142.04 122.51,141.70 119.33,139.58 114.45,141.41"/>
<g fill="#15afd9" stroke-width="0.36" stroke-opacity="0.90"><polygon points="108.20,144.11 111.39,146.24 111.39,58.74 108.20,56.62"/><polygon points="111.39,146.24 116.26,144.40 116.26,56.90 111.39,58.74"/><polygon points="108.20,56.62 111.39,58.74 116.26,56.90 113.08,54.78"/></g>
<polygon fill="#22a1e4" stroke-width="0.30" stroke-opacity="0.90" points="101.96,146.47 105.14,148.60 110.02,146.76 110.02,146.37 106.83,144.25 101.96,146.09"/>
<polygon fill="#2b91ef" stroke-width="0.30" stroke-opacity="0.90" points="95.71,148.83 98.90,150.95 103.77,149.11 103.77,148.92 100.58,146.80 95.71,148.64"/>
<polygon fill="#307ffb" stroke-width="0.30" stroke-opacity="0.90" points="89.46,151.19 92.65,153.31 97.52,151.47 97.52,151.20 94.34,149.08 89.46,150.92"/>
<polygon fill="#416bfe" stroke-width="0.30" stroke-opacity="0.90" points="83.21,153.55 86.40,155.67 91.28,153.83 91.28,153.52 88.09,151.40 83.21,153.24"/>
<polygon fill="#4758f8" stroke-width="0.30" stroke-opacity="0.90" points="76.97,155.91 80.15,158.03 85.03,156.19 85.03,155.87 81.84,153.75 76.97,155.59"/>
<polygon fill="#4745e9" stroke-width="0.30" stroke-opacity="0.90" points="70.72,158.27 73.91,160.39 78.78,158.55 78.78,158.37 75.59,156.25 70.72,158.09"/>
<polygon fill="#4434ce" stroke-width="0.30" stroke-opacity="0.90" points="64.47,160.63 67.66,162.75 72.53,160.91 72.53,160.59 69.35,158.46 64.47,160.30"/>
<polygon fill="#3e26a8" stroke-width="0.30" stroke-opacity="0.90" points="58.22,162.98 61.41,165.11 66.29,163.27 66.29,163.10 63.10,160.97 58.22,162.81"/>
<polygon fill="#f9fb15" stroke-width="0.36" stroke-opacity="0.90" points="180.91,120.82 184.10,122.94 188.97,121.10 188.97,120.84 185.78,118.72 180.91,120.56"/>
<polygon fill="#f5e725" stroke-width="0.36" stroke-opacity="0.90" points="174.66,123.18 177.85,125.30 182.72,123.46 182.72,123.15 179.54,121.02 174.66,122.86"/>
<polygon fill="#fbd22f" stroke-width="0.36" stroke-opacity="0.90" points="168.42,125.54 171.60,127.66 176.48,125.82 176.48,125.43 173.29,123.31 168.42,125.15"/>
<polygon fill="#febe3c" stroke-width="0.36" stroke-opacity="0.90" points="162.17,127.90 165.36,130.02 170.23,128.18 170.23,127.82 167.04,125.70 162.17,127.54"/>
<polygon fill="#e4bb2c" stroke-width="0.36" stroke-opacity="0.90" points="155.92,130.26 159.11,132.38 163.98,130.54 163.98,130.36 160.79,128.24 155.92,130.08"/>
<polygon fill="#bec32e" stroke-width="0.36" stroke-opacity="0.90" points="149.67,132.62 152.86,134.74 157.73,132.90 157.73,132.62 154.55,130.49 149.67,132.33"/>
<polygon fill="#91ca4c" stroke-width="0.36" stroke-opacity="0.90" points="143.43,134.97 146.61,137.10 151.49,135.26 151.49,134.87 148.30,132.75 143.43,134.59"/>
<polygon fill="#61cd71" stroke-width="0.36" stroke-opacity="0.90" points="137.18,137.33 140.37,139.45 145.24,137.61 145.24,137.27 142.05,135.15 137.18,136.99"/>
<polygon fill="#3bc993" stroke-width="0.36" stroke-opacity="0.90" points="130.93,139.69 134.12,141.81 138.99,139.97 138.99,139.83 135.80,137.71 130.93,139.55"/>
<polygon fill="#25c2ad" stroke-width="0.36" stroke-opacity="0.90" points="124.68,142.05 127.87,144.17 132.74,142.33 132.74,141.97 129.56,139.85 124.68,141.69"/>
<g fill="#02bac4" stroke-width="0.36" stroke-opacity="0.90"><polygon points="118.44,144.41 121.62,146.53 121.62,58.99 118.44,56.87"/><polygon points="121.62,146.53 126.50,144.69 126.50,57.15 121.62,58.99"/><polygon points="118.44,56.87 121.62,58.99 126.50,57.15 123.31,55.03"/></g>
<polygon fill="#15afd9" stroke-width="0.30" stroke-opacity="0.90" points="112.19,146.77 115.38,148.89 120.25,147.05 120.25,146.92 117.06,144.79 112.19,146.63"/>
<polygon fill="#22a1e4" stroke-width="0.30" stroke-opacity="0.90" points="105.94,149.13 109.13,151.25 114.00,149.41 114.00,149.21 110.81,147.09 105.94,148.93"/>
<polygon fill="#2b91ef" stroke-width="0.30" stroke-opacity="0.90" points="99.69,151.48 102.88,153.61 107.75,151.77 107.75,151.52 104.57,149.40 99.69,151.24"/>
<polygon fill="#307ffb" stroke-width="0.30" stroke-opacity="0.90" points="93.45,153.84 96.63,155.96 101.51,154.12 101.51,153.80 98.32,151.68 93.45,153.52"/>
<polygon fill="#416bfe" stroke-width="0.30" stroke-opacity="0.90" points="87.20,156.20 90.39,158.32 95.26,156.48 95.26,156.10 92.07,153.98 87.20,155.82"/>
<polygon fill="#4758f8" stroke-width="0.30" stroke-opacity="0.90" points="80.95,158.56 84.14,160.68 89.01,158.84 89.01,158.63 85.82,156.51 80.95,158.35"/>
<polygon fill="#4745e9" stroke-width="0.30" stroke-opacity="0.90" points="74.70,160.92 77.89,163.04 82.76,161.20 82.76,160.84 79.58,158.72 74.70,160.56"/>
<polygon fill="#4434ce" stroke-width="0.30" stroke-opacity="0.90" points="68.46,163.28 71.64,165.40 76.52,163.56 76.52,163.35 73.33,161.23 68.46,163.06"/>
<polygon fill="#3e26a8" stroke-width="0.30" stroke-opacity="0.90" points="62.21,165.64 65.40,167.76 70.27,165.92 70.27,165.56 67.08,163.43 62.21,165.27"/>
<polygon fill="#f9fb15" stroke-width="0.36" stroke-opacity="0.90" points="184.89,123.47 188.08,125.60 192.96,123.76 192.96,123.54 189.77,121.41 184.89,123.25"/>
<polygon fill="#f5e725" stroke-width="0.36" stroke-opacity="0.90" points="178.65,125.83 181.83,127.95 186.71,126.11 186.71,125.78 183.52,123.66 178.65,125.50"/>
<polygon fill="#fbd22f" stroke-width="0.36" stroke-opacity="0.90" points="172.40,128.19 175.59,130.31 180.46,128.47 180.46,128.08 177.27,125.96 172.40,127.80"/>
<polygon fill="#febe3c" stroke-width="0.36" stroke-opacity="0.90" points="166.15,130.55 169.34,132.67 174.21,130.83 174.21,130.61 171.03,128.49 166.15,130.33"/>
<polygon fill="#e4bb2c" stroke-width="0.36" stroke-opacity="0.90" points="159.90,132.91 163.09,135.03 167.97,133.19 167.97,133.01 164.78,130.88 159.90,132.72"/>
<polygon fill="#bec32e" stroke-width="0.36" stroke-opacity="0.90" points="153.66,135.27 156.84,137.39 161.72,135.55 161.72,135.41 158.53,133.29 153.66,135.13"/>
<polygon fill="#91ca4c" stroke-width="0.36" stroke-opacity="0.90" points="147.41,137.63 150.60,139.75 155.47,137.91 155.47,137.54 152.28,135.42 147.41,137.26"/>
<polygon fill="#61cd71" stroke-width="0.36" stroke-opacity="0.90" points="141.16,139.98 144.35,142.11 149.22,140.27 149.22,139.91 146.04,137.78 141.16,139.62"/>
<polygon fill="#3bc993" stroke-width="0.36" stroke-opacity="0.90" points="134.92,142.34 138.10,144.46 142.98,142.63 142.98,142.41 139.79,140.29 134.92,142.13"/>
<g fill="#25c2ad" stroke-width="0.36" stroke-opacity="0.90"><polygon points="128.67,144.70 131.85,146.82 131.85,59.23 128.67,57.11"/><polygon points="131.85,146.82 136.73,144.98 136.73,57.39 131.85,59.23"/><polygon points="128.67,57.11 131.85,59.23 136.73,57.39 133.54,55.27"/></g>
<polygon fill="#02bac4" stroke-width="0.30" stroke-opacity="0.90" points="122.42,147.06 125.61,149.18 130.48,147.34 130.48,147.08 127.29,144.96 122.42,146.80"/>
<polygon fill="#15afd9" stroke-width="0.30" stroke-opacity="0.90" points="116.17,149.42 119.36,151.54 124.23,149.70 124.23,149.49 121.05,147.37 116.17,149.21"/>
<polygon fill="#22a1e4" stroke-width="0.30" stroke-opacity="0.90" points="109.93,151.78 113.11,153.90 117.99,152.06 117.99,151.75 114.80,149.63 109.93,151.47"/>
<polygon fill="#2b91ef" stroke-width="0.30" stroke-opacity="0.90" points="103.68,154.14 106.86,156.26 111.74,154.42 111.74,154.26 108.55,152.14 103.68,153.98"/>
<polygon fill="#307ffb" stroke-width="0.30" stroke-opacity="0.90" points="97.43,156.49 100.62,158.62 105.49,156.78 105.49,156.59 102.30,154.47 97.43,156.31"/>
<polygon fill="#416bfe" stroke-width="0.30" stroke-opacity="0.90" points="91.18,158.85 94.37,160.97 99.24,159.14 99.24,158.89 96.06,156.77 91.18,158.61"/>
<polygon fill="#4758f8" stroke-width="0.30" stroke-opacity="0.90" points="84.94,161.21 88.12,163.33 93.00,161.49 93.00,161.18 89.81,159.06 84.94,160.90"/>
<polygon fill="#4745e9" stroke-width="0.30" stroke-opacity="0.90" points="78.69,163.57 81.88,165.69 86.75,163.85 86.75,163.67 83.56,161.55 78.69,163.38"/>
<polygon fill="#4434ce" stroke-width="0.30" stroke-opacity="0.90" points="72.44,165.93 75.63,168.05 80.50,166.21 80.50,165.99 77.31,163.87 72.44,165.71"/>
<polygon fill="#3e26a8" stroke-width="0.30" stroke-opacity="0.90" points="66.19,168.29 69.38,170.41 74.25,168.57 74.25,168.34 71.07,166.22 66.19,168.06"/>
<polygon fill="#f9fb15" stroke-width="0.36" stroke-opacity="0.90" points="188.88,126.13 192.07,128.25 196.94,126.41 196.94,126.18 193.75,124.06 188.88,125.90"/>
<polygon fill="#f5e725" stroke-width="0.36" stroke-opacity="0.90" points="182.63,128.49 185.82,130.61 190.69,128.77 190.69,128.41 187.50,126.29 182.63,128.13"/>
<polygon fill="#fbd22f" stroke-width="0.36" stroke-opacity="0.90" points="176.38,130.84 179.57,132.97 184.44,131.13 184.44,130.84 181.26,128.71 176.38,130.55"/>
<polygon fill="#febe3c" stroke-width="0.36" stroke-opacity="0.90" points="170.14,133.20 173.32,135.32 178.20,133.48 178.20,133.15 175.01,131.03 170.14,132.87"/>
<polygon fill="#e4bb2c" stroke-width="0.36" stroke-opacity="0.90" points="163.89,135.56 167.08,137.68 171.95,135.84 171.95,135.66 168.76,133.53 163.89,135.37"/>
<polygon fill="#bec32e" stroke-width="0.36" stroke-opacity="0.90" points="157.64,137.92 160.83,140.04 165.70,138.20 165.70,137.83 162.51,135.71 157.64,137.55"/>
<polygon fill="#91ca4c" stroke-width="0.36" stroke-opacity="0.90" points="151.39,140.28 154.58,142.40 159.45,140.56 159.45,140.38 156.27,138.26 151.39,140.10"/>
<polygon fill="#61cd71" stroke-width="0.36" stroke-opacity="0.90" points="145.15,142.64 148.33,144.76 153.21,142.92 153.21,142.76 150.02,140.64 145.15,142.48"/>
<g fill="#3bc993" stroke-width="0.36" stroke-opacity="0.90"><polygon points="138.90,145.00 142.09,147.12 142.09,59.47 138.90,57.35"/><polygon points="142.09,147.12 146.96,145.28 146.96,57.63 142.09,59.47"/><polygon points="138.90,57.35 142.09,59.47 146.96,57.63 143.77,55.51"/></g>
<polygon fill="#25c2ad" stroke-width="0.30" stroke-opacity="0.90" points="132.65,147.35 135.84,149.48 140.71,147.64 140.71,147.31 137.52,145.19 132.65,147.03"/>
<polygon fill="#02bac4" stroke-width="0.30" stroke-opacity="0.90" points="126.40,149.71 129.59,151.83 134.46,149.99 134.46,149.80 131.28,147.68 126.40,149.52"/>
<polygon fill="#15afd9" stroke-width="0.30" stroke-opacity="0.90" points="120.16,152.07 123.34,154.19 128.22,152.35 128.22,151.96 125.03,149.84 120.16,151.68"/>
<polygon fill="#22a1e4" stroke-width="0.30" stroke-opacity="0.90" points="113.91,154.43 117.10,156.55 121.97,154.71 121.97,154.45 118.78,152.33 113.91,154.17"/>
<polygon fill="#2b91ef" stroke-width="0.30" stroke-opacity="0.90" points="107.66,156.79 110.85,158.91 115.72,157.07 115.72,156.76 112.53,154.64 107.66,156.48"/>
<polygon fill="#307ffb" stroke-width="0.30" stroke-opacity="0.90" points="101.41,159.15 104.60,161.27 109.47,159.43 109.47,159.06 106.29,156.94 101.41,158.78"/>
<polygon fill="#416bfe" stroke-width="0.30" stroke-opacity="0.90" points="95.17,161.51 98.35,163.63 103.23,161.79 103.23,161.57 100.04,159.44 95.17,161.28"/>
<polygon fill="#4758f8" stroke-width="0.30" stroke-opacity="0.90" points="88.92,163.86 92.11,165.99 96.98,164.15 96.98,163.77 93.79,161.65 88.92,163.49"/>
<polygon fill="#4745e9" stroke-width="0.30" stroke-opacity="0.90" points="82.67,166.22 85.86,168.34 90.73,166.50 90.73,166.15 87.54,164.03 82.67,165.87"/>
<polygon fill="#4434ce" stroke-width="0.30" stroke-opacity="0.90" points="76.42,168.58 79.61,170.70 84.48,168.86 84.48,168.55 81.30,166.43 76.42,168.27"/>
<polygon fill="#3e26a8" stroke-width="0.30" stroke-opacity="0.90" points="70.18,170.94 73.36,173.06 78.24,171.22 78.24,171.03 75.05,168.91 70.18,170.75"/>
<polygon fill="#f9fb15" stroke-width="0.36" stroke-opacity="0.90" points="192.86,128.78 196.05,130.90 200.92,129.06 200.92,128.78 197.74,126.66 192.86,128.50"/>
<polygon fill="#f5e725" stroke-width="0.36" stroke-opacity="0.90" points="186.62,131.14 189.80,133.26 194.68,131.42 194.68,131.19 191.49,129.07 186.62,130.91"/>
<polygon fill="#fbd22f" stroke-width="0.36" stroke-opacity="0.90" points="180.37,133.50 183.56,135.62 188.43,133.78 188.43,133.44 185.24,131.32 180.37,133.16"/>
<polygon fill="#febe3c" stroke-width="0.36" stroke-opacity="0.90" points="174.12,135.85 177.31,137.98 182.18,136.14 182.18,135.84 178.99,133.72 174.12,135.56"/>
<polygon fill="#e4bb2c" stroke-width="0.36" stroke-opacity="0.90" points="167.87,138.21 171.06,140.33 175.93,138.49 175.93,138.27 172.75,136.15 167.87,137.99"/>
<polygon fill="#bec32e" stroke-width="0.36" stroke-opacity="0.90" points="161.63,140.57 164.81,142.69 169.69,140.85 169.69,140.50 166.50,138.38 161.63,140.22"/>
<polygon fill="#91ca4c" stroke-width="0.36" stroke-opacity="0.90" points="155.38,142.93 158.57,145.05 163.44,143.21 163.44,142.87 160.25,140.75 155.38,142.59"/>
<g fill="#61cd71" stroke-width="0.36" stroke-opacity="0.90"><polygon points="149.13,145.29 152.32,147.41 152.32,59.71 149.13,57.59"/><polygon points="152.32,147.41 157.19,145.57 157.19,57.88 152.32,59.71"/><polygon points="149.13,57.59 152.32,59.71 157.19,57.88 154.00,55.75"/></g>
<polygon fill="#3bc993" stroke-width="0.30" stroke-opacity="0.90" points="142.88,147.65 146.07,149.77 150.94,147.93 150.94,147.57 147.76,145.45 142.88,147.29"/>
<polygon fill="#25c2ad" stroke-width="0.30" stroke-opacity="0.90" points="136.64,150.01 139.82,152.13 144.70,150.29 144.70,150.14 141.51,148.02 136.64,149.85"/>
<polygon fill="#02bac4" stroke-width="0.30" stroke-opacity="0.90" points="130.39,152.36 133.58,154.49 138.45,152.65 138.45,152.50 135.26,150.38 130.39,152.22"/>
<polygon fill="#15afd9" stroke-width="0.30" stroke-opacity="0.90" points="124.14,154.72 127.33,156.84 132.20,155.00 132.20,154.85 129.01,152.72 124.14,154.56"/>
<polygon fill="#22a1e4" stroke-width="0.30" stroke-opacity="0.90" points="117.89,157.08 121.08,159.20 125.95,157.36 125.95,157.09 122.77,154.97 117.89,156.80"/>
<polygon fill="#2b91ef" stroke-width="0.30" stroke-opacity="0.90" points="111.65,159.44 114.83,161.56 119.71,159.72 119.71,159.55 116.52,157.43 111.65,159.27"/>
<polygon fill="#307ffb" stroke-width="0.30" stroke-opacity="0.90" points="105.40,161.80 108.59,163.92 113.46,162.08 113.46,161.72 110.27,159.59 105.40,161.43"/>
<polygon fill="#416bfe" stroke-width="0.30" stroke-opacity="0.90" points="99.15,164.16 102.34,166.28 107.21,164.44 107.21,164.06 104.02,161.93 99.15,163.77"/>
<polygon fill="#4758f8" stroke-width="0.30" stroke-opacity="0.90" points="92.90,166.52 96.09,168.64 100.96,166.80 100.96,166.51 97.78,164.39 92.90,166.23"/>
<polygon fill="#4745e9" stroke-width="0.30" stroke-opacity="0.90" points="86.66,168.87 89.84,171.00 94.72,169.16 94.72,168.80 91.53,166.67 86.66,168.51"/>
<polygon fill="#4434ce" stroke-width="0.30" stroke-opacity="0.90" points="80.41,171.23 83.60,173.35 88.47,171.51 88.47,171.31 85.28,169.19 80.41,171.02"/>
<polygon fill="#3e26a8" stroke-width="0.30" stroke-opacity="0.90" points="74.16,173.59 77.35,175.71 82.22,173.87 82.22,173.65 79.03,171.53 74.16,173.37"/>
<polygon fill="#f9fb15" stroke-width="0.36" stroke-opacity="0.90" points="196.85,131.43 200.03,133.55 204.91,131.71 204.91,131.47 201.72,129.35 196.85,131.19"/>
<polygon fill="#f5e725" stroke-width="0.36" stroke-opacity="0.90" points="190.60,133.79 193.79,135.91 198.66,134.07 198.66,133.68 195.47,131.56 190.60,133.40"/>
<polygon fill="#fbd22f" stroke-width="0.36" stroke-opacity="0.90" points="184.35,136.15 187.54,138.27 192.41,136.43 192.41,136.23 189.22,134.11 184.35,135.95"/>
<polygon fill="#febe3c" stroke-width="0.36" stroke-opacity="0.90" points="178.10,138.51 181.29,140.63 186.16,138.79 186.16,138.65 182.98,136.52 178.10,138.36"/>
<polygon fill="#e4bb2c" stroke-width="0.36" stroke-opacity="0.90" points="171.86,140.86 175.04,142.99 179.92,141.15 179.92,140.78 176.73,138.66 171.86,140.50"/>
<polygon fill="#bec32e" stroke-width="0.36" stroke-opacity="0.90" points="165.61,143.22 168.80,145.35 173.67,143.51 173.67,143.34 170.48,141.22 165.61,143.06"/>
<g fill="#91ca4c" stroke-width="0.36" stroke-opacity="0.90"><polygon points="159.36,145.58 162.55,147.70 162.55,59.96 159.36,57.84"/><polygon points="162.55,147.70 167.42,145.86 167.42,58.12 162.55,59.96"/><polygon points="159.36,57.84 162.55,59.96 167.42,58.12 164.24,56.00"/></g>
<polygon fill="#61cd71" stroke-width="0.30" stroke-opacity="0.90" points="153.11,147.94 156.30,150.06 161.17,148.22 161.17,148.07 157.99,145.95 153.11,147.78"/>
<polygon fill="#3bc993" stroke-width="0.30" stroke-opacity="0.90" points="146.87,150.30 150.05,152.42 154.93,150.58 154.93,150.27 151.74,148.15 146.87,149.99"/>
<polygon fill="#25c2ad" stroke-width="0.30" stroke-opacity="0.90" points="140.62,152.66 143.81,154.78 148.68,152.94 148.68,152.80 145.49,150.68 140.62,152.52"/>
<polygon fill="#02bac4" stroke-width="0.30" stroke-opacity="0.90" points="134.37,155.02 137.56,157.14 142.43,155.30 142.43,154.95 139.25,152.83 134.37,154.67"/>
<polygon fill="#15afd9" stroke-width="0.30" stroke-opacity="0.90" points="128.12,157.37 131.31,159.50 136.18,157.66 136.18,157.32 133.00,155.20 128.12,157.04"/>
<polygon fill="#22a1e4" stroke-width="0.30" stroke-opacity="0.90" points="121.88,159.73 125.06,161.86 129.94,160.02 129.94,159.81 126.75,157.69 121.88,159.53"/>
<polygon fill="#2b91ef" stroke-width="0.30" stroke-opacity="0.90" points="115.63,162.09 118.82,164.21 123.69,162.37 123.69,162.12 120.50,160.00 115.63,161.84"/>
<polygon fill="#307ffb" stroke-width="0.30" stroke-opacity="0.90" points="109.38,164.45 112.57,166.57 117.44,164.73 117.44,164.36 114.26,162.24 109.38,164.08"/>
<polygon fill="#416bfe" stroke-width="0.30" stroke-opacity="0.90" points="103.13,166.81 106.32,168.93 111.20,167.09 111.20,166.81 108.01,164.69 103.13,166.53"/>
<polygon fill="#4758f8" stroke-width="0.30" stroke-opacity="0.90" points="96.89,169.17 100.07,171.29 104.95,169.45 104.95,169.08 101.76,166.96 96.89,168.80"/>
<polygon fill="#4745e9" stroke-width="0.30" stroke-opacity="0.90" points="90.64,171.53 93.83,173.65 98.70,171.81 98.70,171.61 95.51,169.49 90.64,171.32"/>
<polygon fill="#4434ce" stroke-width="0.30" stroke-opacity="0.90" points="84.39,173.89 87.58,176.01 92.45,174.17 92.45,174.01 89.27,171.89 84.39,173.73"/>
<polygon fill="#3e26a8" stroke-width="0.30" stroke-opacity="0.90" points="78.14,176.24 81.33,178.37 86.21,176.53 86.21,176.34 83.02,174.21 78.14,176.05"/>
<polygon fill="#f9fb15" stroke-width="0.36" stroke-opacity="0.90" points="200.83,134.08 204.02,136.20 208.89,134.36 208.89,134.08 205.70,131.95 200.83,133.79"/>
<polygon fill="#f5e725" stroke-width="0.36" stroke-opacity="0.90" points="194.58,136.44 197.77,138.56 202.64,136.72 202.64,136.51 199.46,134.39 194.58,136.23"/>
<polygon fill="#fbd22f" stroke-width="0.36" stroke-opacity="0.90" points="188.34,138.80 191.52,140.92 196.40,139.08 196.40,138.69 193.21,136.57 188.34,138.41"/>
<polygon fill="#febe3c" stroke-width="0.36" stroke-opacity="0.90" points="182.09,141.16 185.28,143.28 190.15,141.44 190.15,141.31 186.96,139.18 182.09,141.02"/>
<polygon fill="#e4bb2c" stroke-width="0.36" stroke-opacity="0.90" points="175.84,143.52 179.03,145.64 183.90,143.80 183.90,143.66 180.71,141.54 175.84,143.37"/>
<g fill="#bec32e" stroke-width="0.36" stroke-opacity="0.90"><polygon points="169.59,145.88 172.78,148.00 172.78,60.20 169.59,58.08"/><polygon points="172.78,148.00 177.65,146.16 177.65,58.36 172.78,60.20"/><polygon points="169.59,58.08 172.78,60.20 177.65,58.36 174.47,56.24"/></g>
<polygon fill="#91ca4c" stroke-width="0.30" stroke-opacity="0.90" points="163.35,148.23 166.53,150.36 171.41,148.52 171.41,148.21 168.22,146.09 163.35,147.93"/>
<polygon fill="#61cd71" stroke-width="0.30" stroke-opacity="0.90" points="157.10,150.59 160.29,152.71 165.16,150.87 165.16,150.72 161.97,148.59 157.10,150.43"/>
<polygon fill="#3bc993" stroke-width="0.30" stroke-opacity="0.90" points="150.85,152.95 154.04,155.07 158.91,153.23 158.91,152.98 155.72,150.85 150.85,152.69"/>
<polygon fill="#25c2ad" stroke-width="0.30" stroke-opacity="0.90" points="144.60,155.31 147.79,157.43 152.66,155.59 152.66,155.39 149.48,153.27 144.60,155.11"/>
<polygon fill="#02bac4" stroke-width="0.30" stroke-opacity="0.90" points="138.36,157.67 141.54,159.79 146.42,157.95 146.42,157.74 143.23,155.62 138.36,157.46"/>
<polygon fill="#15afd9" stroke-width="0.30" stroke-opacity="0.90" points="132.11,160.03 135.30,162.15 140.17,160.31 140.17,159.94 136.98,157.82 132.11,159.66"/>
<polygon fill="#22a1e4" stroke-width="0.30" stroke-opacity="0.90" points="125.86,162.39 129.05,164.51 133.92,162.67 133.92,162.28 130.73,160.16 125.86,162.00"/>
<polygon fill="#2b91ef" stroke-width="0.30" stroke-opacity="0.90" points="119.61,164.74 122.80,166.87 127.67,165.03 127.67,164.79 124.49,162.67 119.61,164.51"/>
<polygon fill="#307ffb" stroke-width="0.30" stroke-opacity="0.90" points="113.37,167.10 116.55,169.22 121.43,167.38 121.43,167.01 118.24,164.89 113.37,166.73"/>
<polygon fill="#416bfe" stroke-width="0.30" stroke-opacity="0.90" points="107.12,169.46 110.31,171.58 115.18,169.74 115.18,169.58 111.99,167.46 107.12,169.30"/>
<polygon fill="#4758f8" stroke-width="0.30" stroke-opacity="0.90" points="100.87,171.82 104.06,173.94 108.93,172.10 108.93,171.77 105.74,169.65 100.87,171.49"/>
<polygon fill="#4745e9" stroke-width="0.30" stroke-opacity="0.90" points="94.62,174.18 97.81,176.30 102.68,174.46 102.68,174.27 99.50,172.14 94.62,173.98"/>
<polygon fill="#4434ce" stroke-width="0.30" stroke-opacity="0.90" points="88.38,176.54 91.56,178.66 96.44,176.82 96.44,176.64 93.25,174.52 88.38,176.36"/>
<polygon fill="#3e26a8" stroke-width="0.30" stroke-opacity="0.90" points="82.13,178.90 85.32,181.02 90.19,179.18 90.19,179.02 87.00,176.89 82.13,178.73"/>
<polygon fill="#f9fb15" stroke-width="0.36" stroke-opacity="0.90" points="204.81,136.73 208.00,138.86 212.88,137.02 212.88,136.81 209.69,134.69 204.81,136.53"/>
<polygon fill="#f5e725" stroke-width="0.36" stroke-opacity="0.90" points="198.57,139.09 201.75,141.21 206.63,139.37 206.63,139.22 203.44,137.10 198.57,138.94"/>
<polygon fill="#fbd22f" stroke-width="0.36" stroke-opacity="0.90" points="192.32,141.45 195.51,143.57 200.38,141.73 200.38,141.54 197.19,139.42 192.32,141.26"/>
<polygon fill="#febe3c" stroke-width="0.36" stroke-opacity="0.90" points="186.07,143.81 189.26,145.93 194.13,144.09 194.13,143.88 190.95,141.76 186.07,143.60"/>
<g fill="#e4bb2c" stroke-width="0.36" stroke-opacity="0.90"><polygon points="179.82,146.17 183.01,148.29 183.01,60.44 179.82,58.32"/><polygon points="183.01,148.29 187.89,146.45 187.89,58.60 183.01,60.44"/><polygon points="179.82,58.32 183.01,60.44 187.89,58.60 184.70,56.48"/></g>
<polygon fill="#bec32e" stroke-width="0.30" stroke-opacity="0.90" points="173.58,148.53 176.76,150.65 181.64,148.81 181.64,148.54 178.45,146.41 173.58,148.25"/>
<polygon fill="#91ca4c" stroke-width="0.30" stroke-opacity="0.90" points="167.33,150.89 170.52,153.01 175.39,151.17 175.39,150.97 172.20,148.85 167.33,150.69"/>
<polygon fill="#61cd71" stroke-width="0.30" stroke-opacity="0.90" points="161.08,153.24 164.27,155.37 169.14,153.53 169.14,153.22 165.96,151.10 161.08,152.94"/>
<polygon fill="#3bc993" stroke-width="0.30" stroke-opacity="0.90" points="154.84,155.60 158.02,157.72 162.90,155.89 162.90,155.57 159.71,153.45 154.84,155.29"/>
<polygon fill="#25c2ad" stroke-width="0.30" stroke-opacity="0.90" points="148.59,157.96 151.77,160.08 156.65,158.24 156.65,157.97 153.46,155.85 148.59,157.69"/>
<polygon fill="#02bac4" stroke-width="0.30" stroke-opacity="0.90" points="142.34,160.32 145.53,162.44 150.40,160.60 150.40,160.21 147.21,158.09 142.34,159.93"/>
<polygon fill="#15afd9" stroke-width="0.30" stroke-opacity="0.90" points="136.09,162.68 139.28,164.80 144.15,162.96 144.15,162.67 140.97,160.55 136.09,162.38"/>
<polygon fill="#22a1e4" stroke-width="0.30" stroke-opacity="0.90" points="129.85,165.04 133.03,167.16 137.91,165.32 137.91,165.13 134.72,163.01 129.85,164.85"/>
<polygon fill="#2b91ef" stroke-width="0.30" stroke-opacity="0.90" points="123.60,167.40 126.78,169.52 131.66,167.68 131.66,167.52 128.47,165.40 123.60,167.24"/>
<polygon fill="#307ffb" stroke-width="0.30" stroke-opacity="0.90" points="117.35,169.75 120.54,171.88 125.41,170.04 125.41,169.65 122.22,167.53 117.35,169.37"/>
<polygon fill="#416bfe" stroke-width="0.30" stroke-opacity="0.90" points="111.10,172.11 114.29,174.23 119.16,172.40 119.16,172.01 115.98,169.89 111.10,171.73"/>
<polygon fill="#4758f8" stroke-width="0.30" stroke-opacity="0.90" points="104.86,174.47 108.04,176.59 112.92,174.75 112.92,174.38 109.73,172.26 104.86,174.10"/>
<polygon fill="#4745e9" stroke-width="0.30" stroke-opacity="0.90" points="98.61,176.83 101.80,178.95 106.67,177.11 106.67,176.96 103.48,174.84 98.61,176.68"/>
<polygon fill="#4434ce" stroke-width="0.30" stroke-opacity="0.90" points="92.36,179.19 95.55,181.31 100.42,179.47 100.42,179.26 97.23,177.14 92.36,178.98"/>
<polygon fill="#3e26a8" stroke-width="0.30" stroke-opacity="0.90" points="86.11,181.55 89.30,183.67 94.17,181.83 94.17,181.58 90.99,179.46 86.11,181.30"/>
<polygon fill="#f9fb15" stroke-width="0.36" stroke-opacity="0.90" points="208.80,139.39 211.99,141.51 216.86,139.67 216.86,139.47 213.67,137.35 208.80,139.19"/>
<polygon fill="#f5e725" stroke-width="0.36" stroke-opacity="0.90" points="202.55,141.75 205.74,143.87 210.61,142.03 210.61,141.89 207.42,139.77 202.55,141.61"/>
<polygon fill="#fbd22f" stroke-width="0.36" stroke-opacity="0.90" points="196.30,144.10 199.49,146.23 204.36,144.39 204.36,144.19 201.18,142.07 196.30,143.91"/>
<g fill="#febe3c" stroke-width="0.36" stroke-opacity="0.90"><polygon points="190.06,146.46 193.24,148.58 193.24,60.69 190.06,58.56"/><polygon points="193.24,148.58 198.12,146.74 198.12,58.85 193.24,60.69"/><polygon points="190.06,58.56 193.24,60.69 198.12,58.85 194.93,56.72"/></g>
<polygon fill="#e4bb2c" stroke-width="0.30" stroke-opacity="0.90" points="183.81,148.82 187.00,150.94 191.87,149.10 191.87,148.81 188.68,146.69 183.81,148.53"/>
<polygon fill="#bec32e" stroke-width="0.30" stroke-opacity="0.90" points="177.56,151.18 180.75,153.30 185.62,151.46 185.62,151.18 182.43,149.06 177.56,150.90"/>
<polygon fill="#91ca4c" stroke-width="0.30" stroke-opacity="0.90" points="171.31,153.54 174.50,155.66 179.37,153.82 179.37,153.55 176.19,151.42 171.31,153.26"/>
<polygon fill="#61cd71" stroke-width="0.30" stroke-opacity="0.90" points="165.07,155.90 168.25,158.02 173.13,156.18 173.13,155.96 169.94,153.84 165.07,155.68"/>
<polygon fill="#3bc993" stroke-width="0.30" stroke-opacity="0.90" points="158.82,158.26 162.01,160.38 166.88,158.54 166.88,158.33 163.69,156.20 158.82,158.04"/>
<polygon fill="#25c2ad" stroke-width="0.30" stroke-opacity="0.90" points="152.57,160.61 155.76,162.74 160.63,160.90 160.63,160.53 157.44,158.41 152.57,160.25"/>
<polygon fill="#02bac4" stroke-width="0.30" stroke-opacity="0.90" points="146.32,162.97 149.51,165.09 154.38,163.25 154.38,162.90 151.20,160.78 146.32,162.62"/>
<polygon fill="#15afd9" stroke-width="0.30" stroke-opacity="0.90" points="140.08,165.33 143.26,167.45 148.14,165.61 148.14,165.40 144.95,163.28 140.08,165.12"/>
<polygon fill="#22a1e4" stroke-width="0.30" stroke-opacity="0.90" points="133.83,167.69 137.02,169.81 141.89,167.97 141.89,167.75 138.70,165.63 133.83,167.47"/>
<polygon fill="#2b91ef" stroke-width="0.30" stroke-opacity="0.90" points="127.58,170.05 130.77,172.17 135.64,170.33 135.64,170.12 132.45,168.00 127.58,169.84"/>
<polygon fill="#307ffb" stroke-width="0.30" stroke-opacity="0.90" points="121.33,172.41 124.52,174.53 129.39,172.69 129.39,172.45 126.21,170.33 121.33,172.17"/>
<polygon fill="#416bfe" stroke-width="0.30" stroke-opacity="0.90" points="115.09,174.77 118.27,176.89 123.15,175.05 123.15,174.67 119.96,172.55 115.09,174.39"/>
<polygon fill="#4758f8" stroke-width="0.30" stroke-opacity="0.90" points="108.84,177.12 112.03,179.25 116.90,177.41 116.90,177.10 113.71,174.98 108.84,176.82"/>
<polygon fill="#4745e9" stroke-width="0.30" stroke-opacity="0.90" points="102.59,179.48 105.78,181.60 110.65,179.76 110.65,179.46 107.46,177.34 102.59,179.18"/>
<polygon fill="#4434ce" stroke-width="0.30" stroke-opacity="0.90" points="96.34,181.84 99.53,183.96 104.40,182.12 104.40,181.87 101.22,179.75 96.34,181.59"/>
<polygon fill="#3e26a8" stroke-width="0.30" stroke-opacity="0.90" points="90.10,184.20 93.28,186.32 98.16,184.48 98.16,184.09 94.97,181.97 90.10,183.81"/>
<polygon fill="#f9fb15" stroke-width="0.36" stroke-opacity="0.90" points="212.78,142.04 215.97,144.16 220.84,142.32 220.84,142.10 217.66,139.98 212.78,141.82"/>
<polygon fill="#f5e725" stroke-width="0.36" stroke-opacity="0.90" points="206.54,144.40 209.72,146.52 214.60,144.68 214.60,144.33 211.41,142.21 206.54,144.05"/>
<g fill="#fbd22f" stroke-width="0.36" stroke-opacity="0.90"><polygon points="200.29,146.76 203.48,148.88 203.48,60.93 200.29,58.81"/><polygon points="203.48,148.88 208.35,147.04 208.35,59.09 203.48,60.93"/><polygon points="200.29,58.81 203.48,60.93 208.35,59.09 205.16,56.97"/></g>
<polygon fill="#febe3c" stroke-width="0.30" stroke-opacity="0.90" points="194.04,149.11 197.23,151.24 202.10,149.40 202.10,149.01 198.91,146.88 194.04,148.72"/>
<polygon fill="#e4bb2c" stroke-width="0.30" stroke-opacity="0.90" points="187.79,151.47 190.98,153.59 195.85,151.75 195.85,151.42 192.67,149.30 187.79,151.14"/>
<polygon fill="#bec32e" stroke-width="0.30" stroke-opacity="0.90" points="181.55,153.83 184.73,155.95 189.61,154.11 189.61,153.94 186.42,151.81 181.55,153.65"/>
<polygon fill="#91ca4c" stroke-width="0.30" stroke-opacity="0.90" points="175.30,156.19 178.49,158.31 183.36,156.47 183.36,156.09 180.17,153.97 175.30,155.81"/>
<polygon fill="#61cd71" stroke-width="0.30" stroke-opacity="0.90" points="169.05,158.55 172.24,160.67 177.11,158.83 177.11,158.68 173.92,156.56 169.05,158.40"/>
<polygon fill="#3bc993" stroke-width="0.30" stroke-opacity="0.90" points="162.80,160.91 165.99,163.03 170.86,161.19 170.86,160.85 167.68,158.73 162.80,160.57"/>
<polygon fill="#25c2ad" stroke-width="0.30" stroke-opacity="0.90" points="156.56,163.27 159.74,165.39 164.62,163.55 164.62,163.28 161.43,161.16 156.56,163.00"/>
<polygon fill="#02bac4" stroke-width="0.30" stroke-opacity="0.90" points="150.31,165.62 153.50,167.75 158.37,165.91 158.37,165.73 155.18,163.61 150.31,165.45"/>
<polygon fill="#15afd9" stroke-width="0.30" stroke-opacity="0.90" points="144.06,167.98 147.25,170.10 152.12,168.26 152.12,167.91 148.93,165.78 144.06,167.62"/>
<polygon fill="#22a1e4" stroke-width="0.30" stroke-opacity="0.90" points="137.81,170.34 141.00,172.46 145.87,170.62 145.87,170.36 142.69,168.24 137.81,170.08"/>
<polygon fill="#2b91ef" stroke-width="0.30" stroke-opacity="0.90" points="131.57,172.70 134.75,174.82 139.63,172.98 139.63,172.64 136.44,170.52 131.57,172.36"/>
<polygon fill="#307ffb" stroke-width="0.30" stroke-opacity="0.90" points="125.32,175.06 128.51,177.18 133.38,175.34 133.38,175.13 130.19,173.01 125.32,174.85"/>
<polygon fill="#416bfe" stroke-width="0.30" stroke-opacity="0.90" points="119.07,177.42 122.26,179.54 127.13,177.70 127.13,177.40 123.94,175.28 119.07,177.12"/>
<polygon fill="#4758f8" stroke-width="0.30" stroke-opacity="0.90" points="112.82,179.78 116.01,181.90 120.88,180.06 120.88,179.91 117.70,177.78 112.82,179.62"/>
<polygon fill="#4745e9" stroke-width="0.30" stroke-opacity="0.90" points="106.58,182.13 109.76,184.26 114.64,182.42 114.64,182.27 111.45,180.14 106.58,181.98"/>
<polygon fill="#4434ce" stroke-width="0.30" stroke-opacity="0.90" points="100.33,184.49 103.52,186.61 108.39,184.77 108.39,184.50 105.20,182.38 100.33,184.22"/>
<polygon fill="#3e26a8" stroke-width="0.30" stroke-opacity="0.90" points="94.08,186.85 97.27,188.97 102.14,187.13 102.14,186.98 98.95,184.86 94.08,186.70"/>
<polygon fill="#f9fb15" stroke-width="0.36" stroke-opacity="0.90" points="216.77,144.69 219.95,146.81 224.83,144.97 224.83,144.65 221.64,142.53 216.77,144.37"/>
<g fill="#f5e725" stroke-width="0.36" stroke-opacity="0.90"><polygon points="210.52,147.05 213.71,149.17 213.71,61.17 210.52,59.05"/><polygon points="213.71,149.17 218.58,147.33 218.58,59.33 213.71,61.17"/><polygon points="210.52,59.05 213.71,61.17 218.58,59.33 215.39,57.21"/></g>
<polygon fill="#fbd22f" stroke-width="0.30" stroke-opacity="0.90" points="204.27,149.41 207.46,151.53 212.33,149.69 212.33,149.52 209.14,147.39 204.27,149.23"/>
<polygon fill="#febe3c" stroke-width="0.30" stroke-opacity="0.90" points="198.02,151.77 201.21,153.89 206.08,152.05 206.08,151.80 202.90,149.68 198.02,151.52"/>
<polygon fill="#e4bb2c" stroke-width="0.30" stroke-opacity="0.90" points="191.78,154.12 194.96,156.25 199.84,154.41 199.84,154.23 196.65,152.11 191.78,153.95"/>
<polygon fill="#bec32e" stroke-width="0.30" stroke-opacity="0.90" points="185.53,156.48 188.72,158.61 193.59,156.77 193.59,156.45 190.40,154.33 185.53,156.17"/>
<polygon fill="#91ca4c" stroke-width="0.30" stroke-opacity="0.90" points="179.28,158.84 182.47,160.96 187.34,159.12 187.34,158.80 184.16,156.67 179.28,158.51"/>
<polygon fill="#61cd71" stroke-width="0.30" stroke-opacity="0.90" points="173.03,161.20 176.22,163.32 181.09,161.48 181.09,161.13 177.91,159.01 173.03,160.85"/>
<polygon fill="#3bc993" stroke-width="0.30" stroke-opacity="0.90" points="166.79,163.56 169.97,165.68 174.85,163.84 174.85,163.47 171.66,161.35 166.79,163.19"/>
<polygon fill="#25c2ad" stroke-width="0.30" stroke-opacity="0.90" points="160.54,165.92 163.73,168.04 168.60,166.20 168.60,165.86 165.41,163.74 160.54,165.57"/>
<polygon fill="#02bac4" stroke-width="0.30" stroke-opacity="0.90" points="154.29,168.28 157.48,170.40 162.35,168.56 162.35,168.19 159.17,166.07 154.29,167.91"/>
<polygon fill="#15afd9" stroke-width="0.30" stroke-opacity="0.90" points="148.04,170.63 151.23,172.76 156.10,170.92 156.10,170.70 152.92,168.58 148.04,170.42"/>
<polygon fill="#22a1e4" stroke-width="0.30" stroke-opacity="0.90" points="141.80,172.99 144.98,175.12 149.86,173.28 149.86,173.14 146.67,171.01 141.80,172.85"/>
<polygon fill="#2b91ef" stroke-width="0.30" stroke-opacity="0.90" points="135.55,175.35 138.74,177.47 143.61,175.63 143.61,175.26 140.42,173.14 135.55,174.98"/>
<polygon fill="#307ffb" stroke-width="0.30" stroke-opacity="0.90" points="129.30,177.71 132.49,179.83 137.36,177.99 137.36,177.82 134.18,175.70 129.30,177.54"/>
<polygon fill="#416bfe" stroke-width="0.30" stroke-opacity="0.90" points="123.05,180.07 126.24,182.19 131.12,180.35 131.12,179.98 127.93,177.86 123.05,179.70"/>
<polygon fill="#4758f8" stroke-width="0.30" stroke-opacity="0.90" points="116.81,182.43 119.99,184.55 124.87,182.71 124.87,182.50 121.68,180.38 116.81,182.22"/>
<polygon fill="#4745e9" stroke-width="0.30" stroke-opacity="0.90" points="110.56,184.79 113.75,186.91 118.62,185.07 118.62,184.69 115.43,182.57 110.56,184.41"/>
<polygon fill="#4434ce" stroke-width="0.30" stroke-opacity="0.90" points="104.31,187.15 107.50,189.27 112.37,187.43 112.37,187.16 109.19,185.04 104.31,186.88"/>
<polygon fill="#3e26a8" stroke-width="0.30" stroke-opacity="0.90" points="98.06,189.50 101.25,191.63 106.13,189.79 106.13,189.63 102.94,187.50 98.06,189.34"/>
<g fill="#f9fb15" stroke-width="0.36" stroke-opacity="0.90"><polygon points="220.75,147.34 223.94,149.46 223.94,61.41 220.75,59.29"/><polygon points="223.94,149.46 228.81,147.62 228.81,59.57 223.94,61.41"/><polygon points="220.75,59.29 223.94,61.41 228.81,59.57 225.62,57.45"/></g>
<polygon fill="#f5e725" stroke-width="0.30" stroke-opacity="0.90" points="214.50,149.70 217.69,151.82 222.56,149.98 222.56,149.82 219.38,147.69 214.50,149.53"/>
<polygon fill="#fbd22f" stroke-width="0.30" stroke-opacity="0.90" points="208.26,152.06 211.44,154.18 216.32,152.34 216.32,152.12 213.13,150.00 208.26,151.83"/>
<polygon fill="#febe3c" stroke-width="0.30" stroke-opacity="0.90" points="202.01,154.42 205.20,156.54 210.07,154.70 210.07,154.55 206.88,152.43 202.01,154.27"/>
<polygon fill="#e4bb2c" stroke-width="0.30" stroke-opacity="0.90" points="195.76,156.78 198.95,158.90 203.82,157.06 203.82,156.78 200.63,154.66 195.76,156.50"/>
<polygon fill="#bec32e" stroke-width="0.30" stroke-opacity="0.90" points="189.51,159.14 192.70,161.26 197.57,159.42 197.57,159.18 194.39,157.05 189.51,158.89"/>
<polygon fill="#91ca4c" stroke-width="0.30" stroke-opacity="0.90" points="183.27,161.49 186.45,163.62 191.33,161.78 191.33,161.47 188.14,159.35 183.27,161.19"/>
<polygon fill="#61cd71" stroke-width="0.30" stroke-opacity="0.90" points="177.02,163.85 180.21,165.97 185.08,164.13 185.08,164.00 181.89,161.87 177.02,163.71"/>
<polygon fill="#3bc993" stroke-width="0.30" stroke-opacity="0.90" points="170.77,166.21 173.96,168.33 178.83,166.49 178.83,166.29 175.64,164.17 170.77,166.01"/>
<polygon fill="#25c2ad" stroke-width="0.30" stroke-opacity="0.90" points="164.52,168.57 167.71,170.69 172.58,168.85 172.58,168.63 169.40,166.51 164.52,168.35"/>
<polygon fill="#02bac4" stroke-width="0.30" stroke-opacity="0.90" points="158.28,170.93 161.46,173.05 166.34,171.21 166.34,170.97 163.15,168.85 158.28,170.69"/>
<polygon fill="#15afd9" stroke-width="0.30" stroke-opacity="0.90" points="152.03,173.29 155.22,175.41 160.09,173.57 160.09,173.32 156.90,171.20 152.03,173.04"/>
<polygon fill="#22a1e4" stroke-width="0.30" stroke-opacity="0.90" points="145.78,175.65 148.97,177.77 153.84,175.93 153.84,175.57 150.65,173.45 145.78,175.29"/>
<polygon fill="#2b91ef" stroke-width="0.30" stroke-opacity="0.90" points="139.53,178.00 142.72,180.13 147.59,178.29 147.59,178.01 144.41,175.89 139.53,177.73"/>
<polygon fill="#307ffb" stroke-width="0.30" stroke-opacity="0.90" points="133.29,180.36 136.47,182.48 141.35,180.64 141.35,180.37 138.16,178.25 133.29,180.09"/>
<polygon fill="#416bfe" stroke-width="0.30" stroke-opacity="0.90" points="127.04,182.72 130.23,184.84 135.10,183.00 135.10,182.66 131.91,180.54 127.04,182.38"/>
<polygon fill="#4758f8" stroke-width="0.30" stroke-opacity="0.90" points="120.79,185.08 123.98,187.20 128.85,185.36 128.85,184.98 125.66,182.86 120.79,184.69"/>
<polygon fill="#4745e9" stroke-width="0.30" stroke-opacity="0.90" points="114.54,187.44 117.73,189.56 122.60,187.72 122.60,187.57 119.42,185.45 114.54,187.29"/>
<polygon fill="#4434ce" stroke-width="0.30" stroke-opacity="0.90" points="108.30,189.80 111.48,191.92 116.36,190.08 116.36,189.88 113.17,187.76 108.30,189.60"/>
<polygon fill="#3e26a8" stroke-width="0.30" stroke-opacity="0.90" points="102.05,192.16 105.24,194.28 110.11,192.44 110.11,192.13 106.92,190.01 102.05,191.85"/>
</g>
<g fill="none" stroke="#262626" stroke-width="0.6">
<path d="M23.90 52.50L23.90 140.20L123.50 206.50L247.20 159.80"/>
<path d="M23.90 140.20l-2.9 -1.5"/>
<path d="M23.90 122.66l-2.9 -1.5"/>
<path d="M23.90 105.12l-2.9 -1.5"/>
<path d="M23.90 87.58l-2.9 -1.5"/>
<path d="M23.90 70.04l-2.9 -1.5"/>
<path d="M23.90 52.50l-2.9 -1.5"/>
<path d="M23.90 140.20l-2.4 0.95"/>
<path d="M43.82 153.46l-2.4 0.95"/>
<path d="M63.74 166.72l-2.4 0.95"/>
<path d="M83.66 179.98l-2.4 0.95"/>
<path d="M103.58 193.24l-2.4 0.95"/>
<path d="M123.50 206.50l-2.4 0.95"/>
<path d="M150.99 196.12l2.0 1.35"/>
<path d="M182.23 184.33l2.0 1.35"/>
<path d="M213.46 172.54l2.0 1.35"/>
<path d="M244.70 160.74l2.0 1.35"/>
</g>
<g font-family="'Liberation Sans', 'Noto Sans CJK SC', sans-serif" font-size="6.60" fill="#151515">
<text x="18.70" y="140.50" text-anchor="end">0</text>
<text x="18.70" y="122.96" text-anchor="end">0.2</text>
<text x="18.70" y="105.42" text-anchor="end">0.4</text>
<text x="18.70" y="87.88" text-anchor="end">0.6</text>
<text x="18.70" y="70.34" text-anchor="end">0.8</text>
<text x="18.70" y="52.80" text-anchor="end">1</text>
<text x="18.80" y="149.50" text-anchor="end">0</text>
<text x="38.72" y="162.76" text-anchor="end">5</text>
<text x="58.64" y="176.02" text-anchor="end">10</text>
<text x="78.56" y="189.28" text-anchor="end">15</text>
<text x="98.48" y="202.54" text-anchor="end">20</text>
<text x="118.40" y="215.80" text-anchor="end">25</text>
<text x="156.29" y="205.82">5</text>
<text x="187.53" y="194.03">10</text>
<text x="218.76" y="182.24">15</text>
<text transform="translate(9.70 161.40) rotate(34.8)" font-size="7.07">Mode shapes of substructure <tspan dx="0.6">Ⅰ</tspan></text>
<text transform="translate(163.20 222.00) rotate(-23.4)" font-size="7.07">Mode shapes of full model</text>
</g>
<g fill="none" stroke="#dcdcdc" stroke-width="0.5">
<path d="M336.10 41.02L336.10 129.32L435.70 195.62"/>
<path d="M367.46 29.23L367.46 117.53L467.06 183.83"/>
<path d="M398.83 17.44L398.83 105.74L498.43 172.04"/>
<path d="M430.19 5.64L430.19 93.94L529.79 160.24"/>
<path d="M432.70 4.70L432.70 93.00L308.50 139.70"/>
<path d="M452.62 17.96L452.62 106.26L328.42 152.96"/>
<path d="M472.54 31.22L472.54 119.52L348.34 166.22"/>
<path d="M492.46 44.48L492.46 132.78L368.26 179.48"/>
<path d="M512.38 57.74L512.38 146.04L388.18 192.74"/>
<path d="M532.30 71.00L532.30 159.30L408.10 206.00"/>
<path d="M308.50 122.04L432.70 75.34L532.30 141.64"/>
<path d="M308.50 104.38L432.70 57.68L532.30 123.98"/>
<path d="M308.50 86.72L432.70 40.02L532.30 106.32"/>
<path d="M308.50 69.06L432.70 22.36L532.30 88.66"/>
<path d="M308.50 51.40L432.70 4.70L532.30 71.00"/>
</g>
<g stroke="#000" stroke-linejoin="round">
<polygon fill="#f9fb15" stroke-width="0.36" stroke-opacity="0.90" points="430.13,96.45 433.32,98.58 438.21,96.74 438.21,96.49 435.03,94.36 430.13,96.20"/>
<polygon fill="#f5e725" stroke-width="0.36" stroke-opacity="0.90" points="423.86,98.81 427.05,100.93 431.94,99.09 431.94,98.82 428.75,96.70 423.86,98.54"/>
<polygon fill="#fbd22f" stroke-width="0.36" stroke-opacity="0.90" points="417.59,101.17 420.78,103.29 425.67,101.45 425.67,101.07 422.48,98.95 417.59,100.79"/>
<polygon fill="#febe3c" stroke-width="0.36" stroke-opacity="0.90" points="411.32,103.53 414.50,105.65 419.40,103.81 419.40,103.42 416.21,101.29 411.32,103.13"/>
<polygon fill="#e4bb2c" stroke-width="0.36" stroke-opacity="0.90" points="405.04,105.89 408.23,108.01 413.12,106.17 413.12,105.85 409.94,103.73 405.04,105.56"/>
<polygon fill="#bec32e" stroke-width="0.36" stroke-opacity="0.90" points="398.77,108.25 401.96,110.37 406.85,108.53 406.85,108.29 403.66,106.17 398.77,108.01"/>
<polygon fill="#91ca4c" stroke-width="0.36" stroke-opacity="0.90" points="392.50,110.61 395.69,112.73 400.58,110.89 400.58,110.64 397.39,108.52 392.50,110.36"/>
<polygon fill="#61cd71" stroke-width="0.36" stroke-opacity="0.90" points="386.23,112.96 389.41,115.09 394.31,113.25 394.31,113.07 391.12,110.95 386.23,112.79"/>
<polygon fill="#3bc993" stroke-width="0.36" stroke-opacity="0.90" points="379.95,115.32 383.14,117.44 388.03,115.61 388.03,115.32 384.85,113.20 379.95,115.04"/>
<polygon fill="#25c2ad" stroke-width="0.36" stroke-opacity="0.90" points="373.68,117.68 376.87,119.80 381.76,117.96 381.76,117.67 378.57,115.55 373.68,117.39"/>
<polygon fill="#02bac4" stroke-width="0.36" stroke-opacity="0.90" points="367.41,120.04 370.59,122.16 375.49,120.32 375.49,120.03 372.30,117.91 367.41,119.75"/>
<polygon fill="#15afd9" stroke-width="0.36" stroke-opacity="0.90" points="361.13,122.40 364.32,124.52 369.21,122.68 369.21,122.47 366.03,120.35 361.13,122.18"/>
<polygon fill="#22a1e4" stroke-width="0.36" stroke-opacity="0.90" points="354.86,124.76 358.05,126.88 362.94,125.04 362.94,124.73 359.75,122.61 354.86,124.45"/>
<polygon fill="#2b91ef" stroke-width="0.36" stroke-opacity="0.90" points="348.59,127.12 351.78,129.24 356.67,127.40 356.67,127.07 353.48,124.95 348.59,126.79"/>
<polygon fill="#307ffb" stroke-width="0.36" stroke-opacity="0.90" points="342.32,129.47 345.50,131.60 350.40,129.76 350.40,129.40 347.21,127.28 342.32,129.12"/>
<polygon fill="#416bfe" stroke-width="0.36" stroke-opacity="0.90" points="336.04,131.83 339.23,133.95 344.12,132.12 344.12,131.96 340.94,129.84 336.04,131.68"/>
<polygon fill="#4758f8" stroke-width="0.36" stroke-opacity="0.90" points="329.77,134.19 332.96,136.31 337.85,134.47 337.85,134.33 334.66,132.20 329.77,134.04"/>
<polygon fill="#4745e9" stroke-width="0.36" stroke-opacity="0.90" points="323.50,136.55 326.69,138.67 331.58,136.83 331.58,136.45 328.39,134.33 323.50,136.17"/>
<polygon fill="#4434ce" stroke-width="0.36" stroke-opacity="0.90" points="317.23,138.91 320.41,141.03 325.31,139.19 325.31,138.81 322.12,136.68 317.23,138.52"/>
<g fill="#3e26a8" stroke-width="0.36" stroke-opacity="0.90"><polygon points="310.95,141.27 314.14,143.39 314.14,55.71 310.95,53.59"/><polygon points="314.14,143.39 319.03,141.55 319.03,53.87 314.14,55.71"/><polygon points="310.95,53.59 314.14,55.71 319.03,53.87 315.85,51.75"/></g>
<polygon fill="#f9fb15" stroke-width="0.36" stroke-opacity="0.90" points="434.12,99.11 437.31,101.23 442.20,99.39 442.20,99.04 439.01,96.92 434.12,98.76"/>
<polygon fill="#f5e725" stroke-width="0.36" stroke-opacity="0.90" points="427.85,101.47 431.03,103.59 435.93,101.75 435.93,101.38 432.74,99.26 427.85,101.10"/>
<polygon fill="#fbd22f" stroke-width="0.36" stroke-opacity="0.90" points="421.57,103.82 424.76,105.95 429.65,104.11 429.65,103.92 426.47,101.80 421.57,103.64"/>
<polygon fill="#febe3c" stroke-width="0.36" stroke-opacity="0.90" points="415.30,106.18 418.49,108.30 423.38,106.46 423.38,106.15 420.19,104.03 415.30,105.87"/>
<polygon fill="#e4bb2c" stroke-width="0.36" stroke-opacity="0.90" points="409.03,108.54 412.22,110.66 417.11,108.82 417.11,108.43 413.92,106.30 409.03,108.14"/>
<polygon fill="#bec32e" stroke-width="0.36" stroke-opacity="0.90" points="402.76,110.90 405.94,113.02 410.84,111.18 410.84,110.91 407.65,108.79 402.76,110.63"/>
<polygon fill="#91ca4c" stroke-width="0.36" stroke-opacity="0.90" points="396.48,113.26 399.67,115.38 404.56,113.54 404.56,113.37 401.38,111.25 396.48,113.09"/>
<polygon fill="#61cd71" stroke-width="0.36" stroke-opacity="0.90" points="390.21,115.62 393.40,117.74 398.29,115.90 398.29,115.68 395.10,113.56 390.21,115.40"/>
<polygon fill="#3bc993" stroke-width="0.36" stroke-opacity="0.90" points="383.94,117.98 387.12,120.10 392.02,118.26 392.02,118.12 388.83,116.00 383.94,117.84"/>
<polygon fill="#25c2ad" stroke-width="0.36" stroke-opacity="0.90" points="377.66,120.33 380.85,122.46 385.74,120.62 385.74,120.42 382.56,118.30 377.66,120.14"/>
<polygon fill="#02bac4" stroke-width="0.36" stroke-opacity="0.90" points="371.39,122.69 374.58,124.81 379.47,122.97 379.47,122.69 376.28,120.57 371.39,122.41"/>
<polygon fill="#15afd9" stroke-width="0.36" stroke-opacity="0.90" points="365.12,125.05 368.31,127.17 373.20,125.33 373.20,125.06 370.01,122.94 365.12,124.78"/>
<polygon fill="#22a1e4" stroke-width="0.36" stroke-opacity="0.90" points="358.85,127.41 362.03,129.53 366.93,127.69 366.93,127.32 363.74,125.20 358.85,127.04"/>
<polygon fill="#2b91ef" stroke-width="0.36" stroke-opacity="0.90" points="352.57,129.77 355.76,131.89 360.65,130.05 360.65,129.82 357.47,127.70 352.57,129.53"/>
<polygon fill="#307ffb" stroke-width="0.36" stroke-opacity="0.90" points="346.30,132.13 349.49,134.25 354.38,132.41 354.38,132.19 351.19,130.07 346.30,131.91"/>
<polygon fill="#416bfe" stroke-width="0.36" stroke-opacity="0.90" points="340.03,134.49 343.22,136.61 348.11,134.77 348.11,134.51 344.92,132.39 340.03,134.23"/>
<polygon fill="#4758f8" stroke-width="0.36" stroke-opacity="0.90" points="333.76,136.84 336.94,138.97 341.84,137.13 341.84,136.99 338.65,134.86 333.76,136.70"/>
<polygon fill="#4745e9" stroke-width="0.36" stroke-opacity="0.90" points="327.48,139.20 330.67,141.32 335.56,139.48 335.56,139.34 332.38,137.22 327.48,139.06"/>
<g fill="#4434ce" stroke-width="0.36" stroke-opacity="0.90"><polygon points="321.21,141.56 324.40,143.68 324.40,55.95 321.21,53.83"/><polygon points="324.40,143.68 329.29,141.84 329.29,54.11 324.40,55.95"/><polygon points="321.21,53.83 324.40,55.95 329.29,54.11 326.10,51.99"/></g>
<polygon fill="#3e26a8" stroke-width="0.30" stroke-opacity="0.90" points="314.94,143.92 318.12,146.04 323.02,144.20 323.02,144.00 319.83,141.88 314.94,143.72"/>
<polygon fill="#f9fb15" stroke-width="0.36" stroke-opacity="0.90" points="438.10,101.76 441.29,103.88 446.18,102.04 446.18,101.67 443.00,99.55 438.10,101.39"/>
<polygon fill="#f5e725" stroke-width="0.36" stroke-opacity="0.90" points="431.83,104.12 435.02,106.24 439.91,104.40 439.91,104.03 436.72,101.91 431.83,103.75"/>
<polygon fill="#fbd22f" stroke-width="0.36" stroke-opacity="0.90" points="425.56,106.48 428.74,108.60 433.64,106.76 433.64,106.53 430.45,104.41 425.56,106.25"/>
<polygon fill="#febe3c" stroke-width="0.36" stroke-opacity="0.90" points="419.28,108.83 422.47,110.96 427.36,109.12 427.36,108.76 424.18,106.64 419.28,108.48"/>
<polygon fill="#e4bb2c" stroke-width="0.36" stroke-opacity="0.90" points="413.01,111.19 416.20,113.31 421.09,111.47 421.09,111.21 417.90,109.09 413.01,110.93"/>
<polygon fill="#bec32e" stroke-width="0.36" stroke-opacity="0.90" points="406.74,113.55 409.93,115.67 414.82,113.83 414.82,113.46 411.63,111.33 406.74,113.17"/>
<polygon fill="#91ca4c" stroke-width="0.36" stroke-opacity="0.90" points="400.47,115.91 403.65,118.03 408.55,116.19 408.55,115.93 405.36,113.81 400.47,115.65"/>
<polygon fill="#61cd71" stroke-width="0.36" stroke-opacity="0.90" points="394.19,118.27 397.38,120.39 402.27,118.55 402.27,118.28 399.09,116.16 394.19,118.00"/>
<polygon fill="#3bc993" stroke-width="0.36" stroke-opacity="0.90" points="387.92,120.63 391.11,122.75 396.00,120.91 396.00,120.65 392.81,118.53 387.92,120.37"/>
<polygon fill="#25c2ad" stroke-width="0.36" stroke-opacity="0.90" points="381.65,122.99 384.84,125.11 389.73,123.27 389.73,122.95 386.54,120.82 381.65,122.66"/>
<polygon fill="#02bac4" stroke-width="0.36" stroke-opacity="0.90" points="375.38,125.34 378.56,127.47 383.46,125.63 383.46,125.29 380.27,123.17 375.38,125.01"/>
<polygon fill="#15afd9" stroke-width="0.36" stroke-opacity="0.90" points="369.10,127.70 372.29,129.82 377.18,127.98 377.18,127.81 374.00,125.69 369.10,127.53"/>
<polygon fill="#22a1e4" stroke-width="0.36" stroke-opacity="0.90" points="362.83,130.06 366.02,132.18 370.91,130.34 370.91,129.96 367.72,127.83 362.83,129.67"/>
<polygon fill="#2b91ef" stroke-width="0.36" stroke-opacity="0.90" points="356.56,132.42 359.74,134.54 364.64,132.70 364.64,132.31 361.45,130.19 356.56,132.03"/>
<polygon fill="#307ffb" stroke-width="0.36" stroke-opacity="0.90" points="350.28,134.78 353.47,136.90 358.36,135.06 358.36,134.83 355.18,132.71 350.28,134.55"/>
<polygon fill="#416bfe" stroke-width="0.36" stroke-opacity="0.90" points="344.01,137.14 347.20,139.26 352.09,137.42 352.09,137.08 348.90,134.96 344.01,136.80"/>
<polygon fill="#4758f8" stroke-width="0.36" stroke-opacity="0.90" points="337.74,139.50 340.93,141.62 345.82,139.78 345.82,139.44 342.63,137.32 337.74,139.16"/>
<g fill="#4745e9" stroke-width="0.36" stroke-opacity="0.90"><polygon points="331.47,141.85 334.65,143.98 334.65,56.19 331.47,54.07"/><polygon points="334.65,143.98 339.55,142.14 339.55,54.35 334.65,56.19"/><polygon points="331.47,54.07 334.65,56.19 339.55,54.35 336.36,52.23"/></g>
<polygon fill="#4434ce" stroke-width="0.30" stroke-opacity="0.90" points="325.19,144.21 328.38,146.33 333.27,144.49 333.27,144.12 330.09,142.00 325.19,143.84"/>
<polygon fill="#3e26a8" stroke-width="0.30" stroke-opacity="0.90" points="318.92,146.57 322.11,148.69 327.00,146.85 327.00,146.53 323.81,144.40 318.92,146.24"/>
<polygon fill="#f9fb15" stroke-width="0.36" stroke-opacity="0.90" points="442.09,104.41 445.27,106.53 450.17,104.69 450.17,104.40 446.98,102.28 442.09,104.12"/>
<polygon fill="#f5e725" stroke-width="0.36" stroke-opacity="0.90" points="435.81,106.77 439.00,108.89 443.89,107.05 443.89,106.75 440.71,104.62 435.81,106.46"/>
<polygon fill="#fbd22f" stroke-width="0.36" stroke-opacity="0.90" points="429.54,109.13 432.73,111.25 437.62,109.41 437.62,109.14 434.43,107.02 429.54,108.86"/>
<polygon fill="#febe3c" stroke-width="0.36" stroke-opacity="0.90" points="423.27,111.49 426.46,113.61 431.35,111.77 431.35,111.50 428.16,109.38 423.27,111.22"/>
<polygon fill="#e4bb2c" stroke-width="0.36" stroke-opacity="0.90" points="417.00,113.84 420.18,115.97 425.08,114.13 425.08,113.81 421.89,111.69 417.00,113.53"/>
<polygon fill="#bec32e" stroke-width="0.36" stroke-opacity="0.90" points="410.72,116.20 413.91,118.33 418.80,116.49 418.80,116.10 415.62,113.98 410.72,115.82"/>
<polygon fill="#91ca4c" stroke-width="0.36" stroke-opacity="0.90" points="404.45,118.56 407.64,120.68 412.53,118.84 412.53,118.63 409.34,116.51 404.45,118.35"/>
<polygon fill="#61cd71" stroke-width="0.36" stroke-opacity="0.90" points="398.18,120.92 401.37,123.04 406.26,121.20 406.26,120.83 403.07,118.71 398.18,120.55"/>
<polygon fill="#3bc993" stroke-width="0.36" stroke-opacity="0.90" points="391.91,123.28 395.09,125.40 399.99,123.56 399.99,123.36 396.80,121.24 391.91,123.08"/>
<polygon fill="#25c2ad" stroke-width="0.36" stroke-opacity="0.90" points="385.63,125.64 388.82,127.76 393.71,125.92 393.71,125.55 390.53,123.43 385.63,125.26"/>
<polygon fill="#02bac4" stroke-width="0.36" stroke-opacity="0.90" points="379.36,128.00 382.55,130.12 387.44,128.28 387.44,128.10 384.25,125.98 379.36,127.82"/>
<polygon fill="#15afd9" stroke-width="0.36" stroke-opacity="0.90" points="373.09,130.35 376.27,132.48 381.17,130.64 381.17,130.32 377.98,128.20 373.09,130.04"/>
<polygon fill="#22a1e4" stroke-width="0.36" stroke-opacity="0.90" points="366.81,132.71 370.00,134.84 374.89,133.00 374.89,132.78 371.71,130.66 366.81,132.50"/>
<polygon fill="#2b91ef" stroke-width="0.36" stroke-opacity="0.90" points="360.54,135.07 363.73,137.19 368.62,135.35 368.62,135.16 365.43,133.04 360.54,134.88"/>
<polygon fill="#307ffb" stroke-width="0.36" stroke-opacity="0.90" points="354.27,137.43 357.46,139.55 362.35,137.71 362.35,137.45 359.16,135.33 354.27,137.17"/>
<polygon fill="#416bfe" stroke-width="0.36" stroke-opacity="0.90" points="348.00,139.79 351.18,141.91 356.08,140.07 356.08,139.75 352.89,137.63 348.00,139.47"/>
<g fill="#4758f8" stroke-width="0.36" stroke-opacity="0.90"><polygon points="341.72,142.15 344.91,144.27 344.91,56.43 341.72,54.31"/><polygon points="344.91,144.27 349.80,142.43 349.80,54.59 344.91,56.43"/><polygon points="341.72,54.31 344.91,56.43 349.80,54.59 346.62,52.47"/></g>
<polygon fill="#4745e9" stroke-width="0.30" stroke-opacity="0.90" points="335.45,144.51 338.64,146.63 343.53,144.79 343.53,144.41 340.34,142.29 335.45,144.13"/>
<polygon fill="#4434ce" stroke-width="0.30" stroke-opacity="0.90" points="329.18,146.87 332.37,148.99 337.26,147.15 337.26,146.86 334.07,144.74 329.18,146.58"/>
<polygon fill="#3e26a8" stroke-width="0.30" stroke-opacity="0.90" points="322.91,149.22 326.09,151.35 330.99,149.51 330.99,149.25 327.80,147.13 322.91,148.97"/>
<polygon fill="#f9fb15" stroke-width="0.36" stroke-opacity="0.90" points="446.07,107.06 449.26,109.18 454.15,107.34 454.15,106.99 450.96,104.86 446.07,106.70"/>
<polygon fill="#f5e725" stroke-width="0.36" stroke-opacity="0.90" points="439.80,109.42 442.99,111.54 447.88,109.70 447.88,109.43 444.69,107.31 439.80,109.15"/>
<polygon fill="#fbd22f" stroke-width="0.36" stroke-opacity="0.90" points="433.53,111.78 436.71,113.90 441.61,112.06 441.61,111.90 438.42,109.78 433.53,111.62"/>
<polygon fill="#febe3c" stroke-width="0.36" stroke-opacity="0.90" points="427.25,114.14 430.44,116.26 435.33,114.42 435.33,114.06 432.15,111.93 427.25,113.77"/>
<polygon fill="#e4bb2c" stroke-width="0.36" stroke-opacity="0.90" points="420.98,116.50 424.17,118.62 429.06,116.78 429.06,116.59 425.87,114.46 420.98,116.30"/>
<polygon fill="#bec32e" stroke-width="0.36" stroke-opacity="0.90" points="414.71,118.86 417.89,120.98 422.79,119.14 422.79,118.93 419.60,116.81 414.71,118.65"/>
<polygon fill="#91ca4c" stroke-width="0.36" stroke-opacity="0.90" points="408.43,121.21 411.62,123.34 416.51,121.50 416.51,121.19 413.33,119.07 408.43,120.91"/>
<polygon fill="#61cd71" stroke-width="0.36" stroke-opacity="0.90" points="402.16,123.57 405.35,125.69 410.24,123.85 410.24,123.71 407.05,121.58 402.16,123.42"/>
<polygon fill="#3bc993" stroke-width="0.36" stroke-opacity="0.90" points="395.89,125.93 399.08,128.05 403.97,126.21 403.97,125.88 400.78,123.76 395.89,125.60"/>
<polygon fill="#25c2ad" stroke-width="0.36" stroke-opacity="0.90" points="389.62,128.29 392.80,130.41 397.70,128.57 397.70,128.39 394.51,126.27 389.62,128.11"/>
<polygon fill="#02bac4" stroke-width="0.36" stroke-opacity="0.90" points="383.34,130.65 386.53,132.77 391.42,130.93 391.42,130.56 388.24,128.44 383.34,130.28"/>
<polygon fill="#15afd9" stroke-width="0.36" stroke-opacity="0.90" points="377.07,133.01 380.26,135.13 385.15,133.29 385.15,132.96 381.96,130.84 377.07,132.68"/>
<polygon fill="#22a1e4" stroke-width="0.36" stroke-opacity="0.90" points="370.80,135.37 373.99,137.49 378.88,135.65 378.88,135.30 375.69,133.18 370.80,135.02"/>
<polygon fill="#2b91ef" stroke-width="0.36" stroke-opacity="0.90" points="364.53,137.72 367.71,139.85 372.61,138.01 372.61,137.85 369.42,135.73 364.53,137.57"/>
<polygon fill="#307ffb" stroke-width="0.36" stroke-opacity="0.90" points="358.25,140.08 361.44,142.20 366.33,140.36 366.33,140.07 363.15,137.95 358.25,139.79"/>
<g fill="#416bfe" stroke-width="0.36" stroke-opacity="0.90"><polygon points="351.98,142.44 355.17,144.56 355.17,56.68 351.98,54.55"/><polygon points="355.17,144.56 360.06,142.72 360.06,54.84 355.17,56.68"/><polygon points="351.98,54.55 355.17,56.68 360.06,54.84 356.87,52.72"/></g>
<polygon fill="#4758f8" stroke-width="0.30" stroke-opacity="0.90" points="345.71,144.80 348.89,146.92 353.79,145.08 353.79,144.70 350.60,142.58 345.71,144.42"/>
<polygon fill="#4745e9" stroke-width="0.30" stroke-opacity="0.90" points="339.43,147.16 342.62,149.28 347.51,147.44 347.51,147.17 344.33,145.05 339.43,146.89"/>
<polygon fill="#4434ce" stroke-width="0.30" stroke-opacity="0.90" points="333.16,149.52 336.35,151.64 341.24,149.80 341.24,149.61 338.05,147.49 333.16,149.33"/>
<polygon fill="#3e26a8" stroke-width="0.30" stroke-opacity="0.90" points="326.89,151.88 330.08,154.00 334.97,152.16 334.97,151.94 331.78,149.82 326.89,151.66"/>
<polygon fill="#f9fb15" stroke-width="0.36" stroke-opacity="0.90" points="450.05,109.71 453.24,111.84 458.13,110.00 458.13,109.68 454.95,107.56 450.05,109.40"/>
<polygon fill="#f5e725" stroke-width="0.36" stroke-opacity="0.90" points="443.78,112.07 446.97,114.19 451.86,112.35 451.86,112.17 448.67,110.05 443.78,111.89"/>
<polygon fill="#fbd22f" stroke-width="0.36" stroke-opacity="0.90" points="437.51,114.43 440.70,116.55 445.59,114.71 445.59,114.54 442.40,112.42 437.51,114.26"/>
<polygon fill="#febe3c" stroke-width="0.36" stroke-opacity="0.90" points="431.24,116.79 434.42,118.91 439.32,117.07 439.32,116.72 436.13,114.60 431.24,116.44"/>
<polygon fill="#e4bb2c" stroke-width="0.36" stroke-opacity="0.90" points="424.96,119.15 428.15,121.27 433.04,119.43 433.04,119.23 429.86,117.11 424.96,118.95"/>
<polygon fill="#bec32e" stroke-width="0.36" stroke-opacity="0.90" points="418.69,121.51 421.88,123.63 426.77,121.79 426.77,121.65 423.58,119.53 418.69,121.37"/>
<polygon fill="#91ca4c" stroke-width="0.36" stroke-opacity="0.90" points="412.42,123.87 415.61,125.99 420.50,124.15 420.50,123.82 417.31,121.70 412.42,123.54"/>
<polygon fill="#61cd71" stroke-width="0.36" stroke-opacity="0.90" points="406.15,126.22 409.33,128.35 414.23,126.51 414.23,126.37 411.04,124.25 406.15,126.09"/>
<polygon fill="#3bc993" stroke-width="0.36" stroke-opacity="0.90" points="399.87,128.58 403.06,130.70 407.95,128.87 407.95,128.48 404.77,126.36 399.87,128.20"/>
<polygon fill="#25c2ad" stroke-width="0.36" stroke-opacity="0.90" points="393.60,130.94 396.79,133.06 401.68,131.22 401.68,131.07 398.49,128.95 393.60,130.79"/>
<polygon fill="#02bac4" stroke-width="0.36" stroke-opacity="0.90" points="387.33,133.30 390.51,135.42 395.41,133.58 395.41,133.27 392.22,131.15 387.33,132.99"/>
<polygon fill="#15afd9" stroke-width="0.36" stroke-opacity="0.90" points="381.05,135.66 384.24,137.78 389.13,135.94 389.13,135.76 385.95,133.64 381.05,135.48"/>
<polygon fill="#22a1e4" stroke-width="0.36" stroke-opacity="0.90" points="374.78,138.02 377.97,140.14 382.86,138.30 382.86,138.07 379.67,135.95 374.78,137.79"/>
<polygon fill="#2b91ef" stroke-width="0.36" stroke-opacity="0.90" points="368.51,140.38 371.70,142.50 376.59,140.66 376.59,140.52 373.40,138.40 368.51,140.24"/>
<g fill="#307ffb" stroke-width="0.36" stroke-opacity="0.90"><polygon points="362.24,142.73 365.42,144.86 365.42,56.92 362.24,54.80"/><polygon points="365.42,144.86 370.32,143.02 370.32,55.08 365.42,56.92"/><polygon points="362.24,54.80 365.42,56.92 370.32,55.08 367.13,52.96"/></g>
<polygon fill="#416bfe" stroke-width="0.30" stroke-opacity="0.90" points="355.96,145.09 359.15,147.21 364.04,145.38 364.04,145.05 360.86,142.93 355.96,144.77"/>
<polygon fill="#4758f8" stroke-width="0.30" stroke-opacity="0.90" points="349.69,147.45 352.88,149.57 357.77,147.73 357.77,147.49 354.58,145.37 349.69,147.21"/>
<polygon fill="#4745e9" stroke-width="0.30" stroke-opacity="0.90" points="343.42,149.81 346.61,151.93 351.50,150.09 351.50,149.73 348.31,147.61 343.42,149.44"/>
<polygon fill="#4434ce" stroke-width="0.30" stroke-opacity="0.90" points="337.15,152.17 340.33,154.29 345.23,152.45 345.23,152.26 342.04,150.14 337.15,151.98"/>
<polygon fill="#3e26a8" stroke-width="0.30" stroke-opacity="0.90" points="330.87,154.53 334.06,156.65 338.95,154.81 338.95,154.61 335.77,152.49 330.87,154.33"/>
<polygon fill="#f9fb15" stroke-width="0.36" stroke-opacity="0.90" points="454.04,112.37 457.23,114.49 462.12,112.65 462.12,112.39 458.93,110.27 454.04,112.11"/>
<polygon fill="#f5e725" stroke-width="0.36" stroke-opacity="0.90" points="447.77,114.73 450.95,116.85 455.85,115.01 455.85,114.69 452.66,112.57 447.77,114.41"/>
<polygon fill="#fbd22f" stroke-width="0.36" stroke-opacity="0.90" points="441.49,117.08 444.68,119.21 449.57,117.37 449.57,117.00 446.39,114.88 441.49,116.72"/>
<polygon fill="#febe3c" stroke-width="0.36" stroke-opacity="0.90" points="435.22,119.44 438.41,121.56 443.30,119.72 443.30,119.39 440.11,117.27 435.22,119.11"/>
<polygon fill="#e4bb2c" stroke-width="0.36" stroke-opacity="0.90" points="428.95,121.80 432.14,123.92 437.03,122.08 437.03,121.71 433.84,119.59 428.95,121.43"/>
<polygon fill="#bec32e" stroke-width="0.36" stroke-opacity="0.90" points="422.68,124.16 425.86,126.28 430.76,124.44 430.76,124.11 427.57,121.99 422.68,123.83"/>
<polygon fill="#91ca4c" stroke-width="0.36" stroke-opacity="0.90" points="416.40,126.52 419.59,128.64 424.48,126.80 424.48,126.46 421.30,124.34 416.40,126.18"/>
<polygon fill="#61cd71" stroke-width="0.36" stroke-opacity="0.90" points="410.13,128.88 413.32,131.00 418.21,129.16 418.21,128.91 415.02,126.79 410.13,128.63"/>
<polygon fill="#3bc993" stroke-width="0.36" stroke-opacity="0.90" points="403.86,131.24 407.04,133.36 411.94,131.52 411.94,131.38 408.75,129.25 403.86,131.09"/>
<polygon fill="#25c2ad" stroke-width="0.36" stroke-opacity="0.90" points="397.58,133.59 400.77,135.72 405.66,133.88 405.66,133.65 402.48,131.53 397.58,133.37"/>
<polygon fill="#02bac4" stroke-width="0.36" stroke-opacity="0.90" points="391.31,135.95 394.50,138.07 399.39,136.23 399.39,136.07 396.20,133.95 391.31,135.79"/>
<polygon fill="#15afd9" stroke-width="0.36" stroke-opacity="0.90" points="385.04,138.31 388.23,140.43 393.12,138.59 393.12,138.26 389.93,136.14 385.04,137.98"/>
<polygon fill="#22a1e4" stroke-width="0.36" stroke-opacity="0.90" points="378.77,140.67 381.95,142.79 386.85,140.95 386.85,140.66 383.66,138.53 378.77,140.37"/>
<g fill="#2b91ef" stroke-width="0.36" stroke-opacity="0.90"><polygon points="372.49,143.03 375.68,145.15 375.68,57.16 372.49,55.04"/><polygon points="375.68,145.15 380.57,143.31 380.57,55.32 375.68,57.16"/><polygon points="372.49,55.04 375.68,57.16 380.57,55.32 377.39,53.20"/></g>
<polygon fill="#307ffb" stroke-width="0.30" stroke-opacity="0.90" points="366.22,145.39 369.41,147.51 374.30,145.67 374.30,145.44 371.11,143.32 366.22,145.16"/>
<polygon fill="#416bfe" stroke-width="0.30" stroke-opacity="0.90" points="359.95,147.75 363.14,149.87 368.03,148.03 368.03,147.89 364.84,145.76 359.95,147.60"/>
<polygon fill="#4758f8" stroke-width="0.30" stroke-opacity="0.90" points="353.68,150.10 356.86,152.23 361.76,150.39 361.76,150.21 358.57,148.09 353.68,149.93"/>
<polygon fill="#4745e9" stroke-width="0.30" stroke-opacity="0.90" points="347.40,152.46 350.59,154.58 355.48,152.74 355.48,152.35 352.30,150.23 347.40,152.07"/>
<polygon fill="#4434ce" stroke-width="0.30" stroke-opacity="0.90" points="341.13,154.82 344.32,156.94 349.21,155.10 349.21,154.96 346.02,152.84 341.13,154.68"/>
<polygon fill="#3e26a8" stroke-width="0.30" stroke-opacity="0.90" points="334.86,157.18 338.04,159.30 342.94,157.46 342.94,157.23 339.75,155.11 334.86,156.95"/>
<polygon fill="#f9fb15" stroke-width="0.36" stroke-opacity="0.90" points="458.02,115.02 461.21,117.14 466.10,115.30 466.10,115.15 462.92,113.03 458.02,114.87"/>
<polygon fill="#f5e725" stroke-width="0.36" stroke-opacity="0.90" points="451.75,117.38 454.94,119.50 459.83,117.66 459.83,117.49 456.64,115.37 451.75,117.21"/>
<polygon fill="#fbd22f" stroke-width="0.36" stroke-opacity="0.90" points="445.48,119.74 448.66,121.86 453.56,120.02 453.56,119.74 450.37,117.62 445.48,119.46"/>
<polygon fill="#febe3c" stroke-width="0.36" stroke-opacity="0.90" points="439.20,122.09 442.39,124.22 447.28,122.38 447.28,122.24 444.10,120.12 439.20,121.96"/>
<polygon fill="#e4bb2c" stroke-width="0.36" stroke-opacity="0.90" points="432.93,124.45 436.12,126.57 441.01,124.73 441.01,124.49 437.82,122.37 432.93,124.21"/>
<polygon fill="#bec32e" stroke-width="0.36" stroke-opacity="0.90" points="426.66,126.81 429.85,128.93 434.74,127.09 434.74,126.80 431.55,124.68 426.66,126.52"/>
<polygon fill="#91ca4c" stroke-width="0.36" stroke-opacity="0.90" points="420.39,129.17 423.57,131.29 428.47,129.45 428.47,129.25 425.28,127.13 420.39,128.97"/>
<polygon fill="#61cd71" stroke-width="0.36" stroke-opacity="0.90" points="414.11,131.53 417.30,133.65 422.19,131.81 422.19,131.42 419.01,129.30 414.11,131.14"/>
<polygon fill="#3bc993" stroke-width="0.36" stroke-opacity="0.90" points="407.84,133.89 411.03,136.01 415.92,134.17 415.92,134.00 412.73,131.88 407.84,133.72"/>
<polygon fill="#25c2ad" stroke-width="0.36" stroke-opacity="0.90" points="401.57,136.25 404.76,138.37 409.65,136.53 409.65,136.26 406.46,134.14 401.57,135.98"/>
<polygon fill="#02bac4" stroke-width="0.36" stroke-opacity="0.90" points="395.30,138.60 398.48,140.73 403.38,138.89 403.38,138.65 400.19,136.53 395.30,138.37"/>
<polygon fill="#15afd9" stroke-width="0.36" stroke-opacity="0.90" points="389.02,140.96 392.21,143.08 397.10,141.24 397.10,140.96 393.92,138.84 389.02,140.68"/>
<g fill="#22a1e4" stroke-width="0.36" stroke-opacity="0.90"><polygon points="382.75,143.32 385.94,145.44 385.94,57.40 382.75,55.28"/><polygon points="385.94,145.44 390.83,143.60 390.83,55.56 385.94,57.40"/><polygon points="382.75,55.28 385.94,57.40 390.83,55.56 387.64,53.44"/></g>
<polygon fill="#2b91ef" stroke-width="0.30" stroke-opacity="0.90" points="376.48,145.68 379.66,147.80 384.56,145.96 384.56,145.80 381.37,143.67 376.48,145.51"/>
<polygon fill="#307ffb" stroke-width="0.30" stroke-opacity="0.90" points="370.20,148.04 373.39,150.16 378.28,148.32 378.28,147.96 375.10,145.83 370.20,147.67"/>
<polygon fill="#416bfe" stroke-width="0.30" stroke-opacity="0.90" points="363.93,150.40 367.12,152.52 372.01,150.68 372.01,150.43 368.82,148.31 363.93,150.15"/>
<polygon fill="#4758f8" stroke-width="0.30" stroke-opacity="0.90" points="357.66,152.76 360.85,154.88 365.74,153.04 365.74,152.88 362.55,150.76 357.66,152.60"/>
<polygon fill="#4745e9" stroke-width="0.30" stroke-opacity="0.90" points="351.39,155.11 354.57,157.24 359.47,155.40 359.47,155.18 356.28,153.06 351.39,154.90"/>
<polygon fill="#4434ce" stroke-width="0.30" stroke-opacity="0.90" points="345.11,157.47 348.30,159.59 353.19,157.75 353.19,157.45 350.01,155.33 345.11,157.17"/>
<polygon fill="#3e26a8" stroke-width="0.30" stroke-opacity="0.90" points="338.84,159.83 342.03,161.95 346.92,160.11 346.92,159.92 343.73,157.80 338.84,159.64"/>
<polygon fill="#f9fb15" stroke-width="0.36" stroke-opacity="0.90" points="462.01,117.67 465.19,119.79 470.09,117.95 470.09,117.82 466.90,115.70 462.01,117.54"/>
<polygon fill="#f5e725" stroke-width="0.36" stroke-opacity="0.90" points="455.73,120.03 458.92,122.15 463.81,120.31 463.81,120.04 460.63,117.92 455.73,119.76"/>
<polygon fill="#fbd22f" stroke-width="0.36" stroke-opacity="0.90" points="449.46,122.39 452.65,124.51 457.54,122.67 457.54,122.43 454.35,120.30 449.46,122.14"/>
<polygon fill="#febe3c" stroke-width="0.36" stroke-opacity="0.90" points="443.19,124.75 446.38,126.87 451.27,125.03 451.27,124.83 448.08,122.71 443.19,124.55"/>
<polygon fill="#e4bb2c" stroke-width="0.36" stroke-opacity="0.90" points="436.92,127.10 440.10,129.23 445.00,127.39 445.00,127.07 441.81,124.94 436.92,126.78"/>
<polygon fill="#bec32e" stroke-width="0.36" stroke-opacity="0.90" points="430.64,129.46 433.83,131.59 438.72,129.75 438.72,129.40 435.54,127.28 430.64,129.12"/>
<polygon fill="#91ca4c" stroke-width="0.36" stroke-opacity="0.90" points="424.37,131.82 427.56,133.94 432.45,132.10 432.45,131.81 429.26,129.68 424.37,131.52"/>
<polygon fill="#61cd71" stroke-width="0.36" stroke-opacity="0.90" points="418.10,134.18 421.29,136.30 426.18,134.46 426.18,134.17 422.99,132.05 418.10,133.89"/>
<polygon fill="#3bc993" stroke-width="0.36" stroke-opacity="0.90" points="411.83,136.54 415.01,138.66 419.91,136.82 419.91,136.62 416.72,134.50 411.83,136.34"/>
<polygon fill="#25c2ad" stroke-width="0.36" stroke-opacity="0.90" points="405.55,138.90 408.74,141.02 413.63,139.18 413.63,138.93 410.45,136.81 405.55,138.65"/>
<polygon fill="#02bac4" stroke-width="0.36" stroke-opacity="0.90" points="399.28,141.26 402.47,143.38 407.36,141.54 407.36,141.34 404.17,139.22 399.28,141.06"/>
<g fill="#15afd9" stroke-width="0.36" stroke-opacity="0.90"><polygon points="393.01,143.61 396.19,145.74 396.19,57.65 393.01,55.52"/><polygon points="396.19,145.74 401.09,143.90 401.09,55.81 396.19,57.65"/><polygon points="393.01,55.52 396.19,57.65 401.09,55.81 397.90,53.68"/></g>
<polygon fill="#22a1e4" stroke-width="0.30" stroke-opacity="0.90" points="386.73,145.97 389.92,148.10 394.81,146.26 394.81,145.86 391.63,143.74 386.73,145.58"/>
<polygon fill="#2b91ef" stroke-width="0.30" stroke-opacity="0.90" points="380.46,148.33 383.65,150.45 388.54,148.61 388.54,148.23 385.35,146.11 380.46,147.95"/>
<polygon fill="#307ffb" stroke-width="0.30" stroke-opacity="0.90" points="374.19,150.69 377.38,152.81 382.27,150.97 382.27,150.58 379.08,148.46 374.19,150.30"/>
<polygon fill="#416bfe" stroke-width="0.30" stroke-opacity="0.90" points="367.92,153.05 371.10,155.17 376.00,153.33 376.00,153.06 372.81,150.94 367.92,152.78"/>
<polygon fill="#4758f8" stroke-width="0.30" stroke-opacity="0.90" points="361.64,155.41 364.83,157.53 369.72,155.69 369.72,155.39 366.54,153.27 361.64,155.11"/>
<polygon fill="#4745e9" stroke-width="0.30" stroke-opacity="0.90" points="355.37,157.77 358.56,159.89 363.45,158.05 363.45,157.89 360.26,155.77 355.37,157.61"/>
<polygon fill="#4434ce" stroke-width="0.30" stroke-opacity="0.90" points="349.10,160.13 352.29,162.25 357.18,160.41 357.18,160.23 353.99,158.11 349.10,159.95"/>
<polygon fill="#3e26a8" stroke-width="0.30" stroke-opacity="0.90" points="342.83,162.48 346.01,164.61 350.91,162.77 350.91,162.62 347.72,160.50 342.83,162.34"/>
<polygon fill="#f9fb15" stroke-width="0.36" stroke-opacity="0.90" points="465.99,120.32 469.18,122.44 474.07,120.60 474.07,120.34 470.88,118.21 465.99,120.05"/>
<polygon fill="#f5e725" stroke-width="0.36" stroke-opacity="0.90" points="459.72,122.68 462.91,124.80 467.80,122.96 467.80,122.72 464.61,120.59 459.72,122.43"/>
<polygon fill="#fbd22f" stroke-width="0.36" stroke-opacity="0.90" points="453.45,125.04 456.63,127.16 461.53,125.32 461.53,125.00 458.34,122.87 453.45,124.71"/>
<polygon fill="#febe3c" stroke-width="0.36" stroke-opacity="0.90" points="447.17,127.40 450.36,129.52 455.25,127.68 455.25,127.29 452.07,125.17 447.17,127.01"/>
<polygon fill="#e4bb2c" stroke-width="0.36" stroke-opacity="0.90" points="440.90,129.76 444.09,131.88 448.98,130.04 448.98,129.67 445.79,127.54 440.90,129.38"/>
<polygon fill="#bec32e" stroke-width="0.36" stroke-opacity="0.90" points="434.63,132.12 437.81,134.24 442.71,132.40 442.71,132.21 439.52,130.09 434.63,131.93"/>
<polygon fill="#91ca4c" stroke-width="0.36" stroke-opacity="0.90" points="428.35,134.47 431.54,136.60 436.43,134.76 436.43,134.45 433.25,132.33 428.35,134.17"/>
<polygon fill="#61cd71" stroke-width="0.36" stroke-opacity="0.90" points="422.08,136.83 425.27,138.95 430.16,137.11 430.16,136.90 426.97,134.78 422.08,136.62"/>
<polygon fill="#3bc993" stroke-width="0.36" stroke-opacity="0.90" points="415.81,139.19 419.00,141.31 423.89,139.47 423.89,139.22 420.70,137.10 415.81,138.94"/>
<polygon fill="#25c2ad" stroke-width="0.36" stroke-opacity="0.90" points="409.54,141.55 412.72,143.67 417.62,141.83 417.62,141.56 414.43,139.44 409.54,141.28"/>
<g fill="#02bac4" stroke-width="0.36" stroke-opacity="0.90"><polygon points="403.26,143.91 406.45,146.03 406.45,57.89 403.26,55.77"/><polygon points="406.45,146.03 411.34,144.19 411.34,56.05 406.45,57.89"/><polygon points="403.26,55.77 406.45,57.89 411.34,56.05 408.16,53.93"/></g>
<polygon fill="#15afd9" stroke-width="0.30" stroke-opacity="0.90" points="396.99,146.27 400.18,148.39 405.07,146.55 405.07,146.36 401.88,144.24 396.99,146.08"/>
<polygon fill="#22a1e4" stroke-width="0.30" stroke-opacity="0.90" points="390.72,148.63 393.91,150.75 398.80,148.91 398.80,148.71 395.61,146.59 390.72,148.43"/>
<polygon fill="#2b91ef" stroke-width="0.30" stroke-opacity="0.90" points="384.45,150.98 387.63,153.11 392.53,151.27 392.53,151.09 389.34,148.96 384.45,150.80"/>
<polygon fill="#307ffb" stroke-width="0.30" stroke-opacity="0.90" points="378.17,153.34 381.36,155.46 386.25,153.62 386.25,153.47 383.07,151.34 378.17,153.18"/>
<polygon fill="#416bfe" stroke-width="0.30" stroke-opacity="0.90" points="371.90,155.70 375.09,157.82 379.98,155.98 379.98,155.79 376.79,153.67 371.90,155.51"/>
<polygon fill="#4758f8" stroke-width="0.30" stroke-opacity="0.90" points="365.63,158.06 368.81,160.18 373.71,158.34 373.71,158.02 370.52,155.90 365.63,157.74"/>
<polygon fill="#4745e9" stroke-width="0.30" stroke-opacity="0.90" points="359.35,160.42 362.54,162.54 367.43,160.70 367.43,160.54 364.25,158.42 359.35,160.26"/>
<polygon fill="#4434ce" stroke-width="0.30" stroke-opacity="0.90" points="353.08,162.78 356.27,164.90 361.16,163.06 361.16,162.82 357.97,160.70 353.08,162.54"/>
<polygon fill="#3e26a8" stroke-width="0.30" stroke-opacity="0.90" points="346.81,165.14 350.00,167.26 354.89,165.42 354.89,165.28 351.70,163.15 346.81,164.99"/>
<polygon fill="#f9fb15" stroke-width="0.36" stroke-opacity="0.90" points="469.97,122.97 473.16,125.10 478.05,123.26 478.05,122.90 474.87,120.78 469.97,122.62"/>
<polygon fill="#f5e725" stroke-width="0.36" stroke-opacity="0.90" points="463.70,125.33 466.89,127.45 471.78,125.61 471.78,125.40 468.59,123.28 463.70,125.12"/>
<polygon fill="#fbd22f" stroke-width="0.36" stroke-opacity="0.90" points="457.43,127.69 460.62,129.81 465.51,127.97 465.51,127.81 462.32,125.69 457.43,127.53"/>
<polygon fill="#febe3c" stroke-width="0.36" stroke-opacity="0.90" points="451.16,130.05 454.34,132.17 459.24,130.33 459.24,130.02 456.05,127.90 451.16,129.74"/>
<polygon fill="#e4bb2c" stroke-width="0.36" stroke-opacity="0.90" points="444.88,132.41 448.07,134.53 452.96,132.69 452.96,132.55 449.78,130.43 444.88,132.27"/>
<polygon fill="#bec32e" stroke-width="0.36" stroke-opacity="0.90" points="438.61,134.77 441.80,136.89 446.69,135.05 446.69,134.82 443.50,132.70 438.61,134.54"/>
<polygon fill="#91ca4c" stroke-width="0.36" stroke-opacity="0.90" points="432.34,137.13 435.53,139.25 440.42,137.41 440.42,137.01 437.23,134.89 432.34,136.73"/>
<polygon fill="#61cd71" stroke-width="0.36" stroke-opacity="0.90" points="426.07,139.48 429.25,141.61 434.15,139.77 434.15,139.56 430.96,137.44 426.07,139.28"/>
<polygon fill="#3bc993" stroke-width="0.36" stroke-opacity="0.90" points="419.79,141.84 422.98,143.96 427.87,142.13 427.87,141.83 424.69,139.71 419.79,141.55"/>
<g fill="#25c2ad" stroke-width="0.36" stroke-opacity="0.90"><polygon points="413.52,144.20 416.71,146.32 416.71,58.13 413.52,56.01"/><polygon points="416.71,146.32 421.60,144.48 421.60,56.29 416.71,58.13"/><polygon points="413.52,56.01 416.71,58.13 421.60,56.29 418.41,54.17"/></g>
<polygon fill="#02bac4" stroke-width="0.30" stroke-opacity="0.90" points="407.25,146.56 410.43,148.68 415.33,146.84 415.33,146.47 412.14,144.34 407.25,146.18"/>
<polygon fill="#15afd9" stroke-width="0.30" stroke-opacity="0.90" points="400.97,148.92 404.16,151.04 409.05,149.20 409.05,148.93 405.87,146.81 400.97,148.65"/>
<polygon fill="#22a1e4" stroke-width="0.30" stroke-opacity="0.90" points="394.70,151.28 397.89,153.40 402.78,151.56 402.78,151.33 399.59,149.21 394.70,151.05"/>
<polygon fill="#2b91ef" stroke-width="0.30" stroke-opacity="0.90" points="388.43,153.64 391.62,155.76 396.51,153.92 396.51,153.57 393.32,151.45 388.43,153.29"/>
<polygon fill="#307ffb" stroke-width="0.30" stroke-opacity="0.90" points="382.16,155.99 385.34,158.12 390.24,156.28 390.24,156.12 387.05,154.00 382.16,155.84"/>
<polygon fill="#416bfe" stroke-width="0.30" stroke-opacity="0.90" points="375.88,158.35 379.07,160.47 383.96,158.64 383.96,158.45 380.78,156.33 375.88,158.17"/>
<polygon fill="#4758f8" stroke-width="0.30" stroke-opacity="0.90" points="369.61,160.71 372.80,162.83 377.69,160.99 377.69,160.72 374.50,158.60 369.61,160.44"/>
<polygon fill="#4745e9" stroke-width="0.30" stroke-opacity="0.90" points="363.34,163.07 366.53,165.19 371.42,163.35 371.42,163.11 368.23,160.99 363.34,162.83"/>
<polygon fill="#4434ce" stroke-width="0.30" stroke-opacity="0.90" points="357.07,165.43 360.25,167.55 365.15,165.71 365.15,165.56 361.96,163.44 357.07,165.28"/>
<polygon fill="#3e26a8" stroke-width="0.30" stroke-opacity="0.90" points="350.79,167.79 353.98,169.91 358.87,168.07 358.87,167.78 355.69,165.66 350.79,167.50"/>
<polygon fill="#f9fb15" stroke-width="0.36" stroke-opacity="0.90" points="473.96,125.63 477.15,127.75 482.04,125.91 482.04,125.67 478.85,123.55 473.96,125.39"/>
<polygon fill="#f5e725" stroke-width="0.36" stroke-opacity="0.90" points="467.69,127.99 470.87,130.11 475.77,128.27 475.77,127.93 472.58,125.81 467.69,127.65"/>
<polygon fill="#fbd22f" stroke-width="0.36" stroke-opacity="0.90" points="461.41,130.34 464.60,132.47 469.49,130.63 469.49,130.37 466.31,128.25 461.41,130.09"/>
<polygon fill="#febe3c" stroke-width="0.36" stroke-opacity="0.90" points="455.14,132.70 458.33,134.82 463.22,132.98 463.22,132.75 460.03,130.63 455.14,132.47"/>
<polygon fill="#e4bb2c" stroke-width="0.36" stroke-opacity="0.90" points="448.87,135.06 452.06,137.18 456.95,135.34 456.95,135.06 453.76,132.94 448.87,134.78"/>
<polygon fill="#bec32e" stroke-width="0.36" stroke-opacity="0.90" points="442.60,137.42 445.78,139.54 450.68,137.70 450.68,137.52 447.49,135.40 442.60,137.24"/>
<polygon fill="#91ca4c" stroke-width="0.36" stroke-opacity="0.90" points="436.32,139.78 439.51,141.90 444.40,140.06 444.40,139.73 441.22,137.61 436.32,139.45"/>
<polygon fill="#61cd71" stroke-width="0.36" stroke-opacity="0.90" points="430.05,142.14 433.24,144.26 438.13,142.42 438.13,142.27 434.94,140.14 430.05,141.98"/>
<g fill="#3bc993" stroke-width="0.36" stroke-opacity="0.90"><polygon points="423.78,144.50 426.96,146.62 426.96,58.37 423.78,56.25"/><polygon points="426.96,146.62 431.86,144.78 431.86,56.53 426.96,58.37"/><polygon points="423.78,56.25 426.96,58.37 431.86,56.53 428.67,54.41"/></g>
<polygon fill="#25c2ad" stroke-width="0.30" stroke-opacity="0.90" points="417.50,146.85 420.69,148.98 425.58,147.14 425.58,146.76 422.40,144.63 417.50,146.47"/>
<polygon fill="#02bac4" stroke-width="0.30" stroke-opacity="0.90" points="411.23,149.21 414.42,151.33 419.31,149.49 419.31,149.26 416.12,147.14 411.23,148.98"/>
<polygon fill="#15afd9" stroke-width="0.30" stroke-opacity="0.90" points="404.96,151.57 408.15,153.69 413.04,151.85 413.04,151.65 409.85,149.52 404.96,151.36"/>
<polygon fill="#22a1e4" stroke-width="0.30" stroke-opacity="0.90" points="398.69,153.93 401.87,156.05 406.77,154.21 406.77,154.06 403.58,151.94 398.69,153.78"/>
<polygon fill="#2b91ef" stroke-width="0.30" stroke-opacity="0.90" points="392.41,156.29 395.60,158.41 400.49,156.57 400.49,156.28 397.31,154.16 392.41,156.00"/>
<polygon fill="#307ffb" stroke-width="0.30" stroke-opacity="0.90" points="386.14,158.65 389.33,160.77 394.22,158.93 394.22,158.74 391.03,156.62 386.14,158.46"/>
<polygon fill="#416bfe" stroke-width="0.30" stroke-opacity="0.90" points="379.87,161.01 383.06,163.13 387.95,161.29 387.95,161.03 384.76,158.90 379.87,160.74"/>
<polygon fill="#4758f8" stroke-width="0.30" stroke-opacity="0.90" points="373.60,163.36 376.78,165.49 381.68,163.65 381.68,163.40 378.49,161.28 373.60,163.12"/>
<polygon fill="#4745e9" stroke-width="0.30" stroke-opacity="0.90" points="367.32,165.72 370.51,167.84 375.40,166.00 375.40,165.75 372.22,163.63 367.32,165.47"/>
<polygon fill="#4434ce" stroke-width="0.30" stroke-opacity="0.90" points="361.05,168.08 364.24,170.20 369.13,168.36 369.13,168.23 365.94,166.10 361.05,167.94"/>
<polygon fill="#3e26a8" stroke-width="0.30" stroke-opacity="0.90" points="354.78,170.44 357.96,172.56 362.86,170.72 362.86,170.41 359.67,168.29 354.78,170.13"/>
<polygon fill="#f9fb15" stroke-width="0.36" stroke-opacity="0.90" points="477.94,128.28 481.13,130.40 486.02,128.56 486.02,128.18 482.84,126.05 477.94,127.89"/>
<polygon fill="#f5e725" stroke-width="0.36" stroke-opacity="0.90" points="471.67,130.64 474.86,132.76 479.75,130.92 479.75,130.66 476.56,128.54 471.67,130.38"/>
<polygon fill="#fbd22f" stroke-width="0.36" stroke-opacity="0.90" points="465.40,133.00 468.58,135.12 473.48,133.28 473.48,133.01 470.29,130.88 465.40,132.72"/>
<polygon fill="#febe3c" stroke-width="0.36" stroke-opacity="0.90" points="459.12,135.35 462.31,137.48 467.20,135.64 467.20,135.43 464.02,133.31 459.12,135.15"/>
<polygon fill="#e4bb2c" stroke-width="0.36" stroke-opacity="0.90" points="452.85,137.71 456.04,139.83 460.93,137.99 460.93,137.65 457.74,135.53 452.85,137.37"/>
<polygon fill="#bec32e" stroke-width="0.36" stroke-opacity="0.90" points="446.58,140.07 449.77,142.19 454.66,140.35 454.66,140.10 451.47,137.98 446.58,139.82"/>
<polygon fill="#91ca4c" stroke-width="0.36" stroke-opacity="0.90" points="440.31,142.43 443.49,144.55 448.39,142.71 448.39,142.48 445.20,140.36 440.31,142.20"/>
<g fill="#61cd71" stroke-width="0.36" stroke-opacity="0.90"><polygon points="434.03,144.79 437.22,146.91 437.22,58.61 434.03,56.49"/><polygon points="437.22,146.91 442.11,145.07 442.11,56.78 437.22,58.61"/><polygon points="434.03,56.49 437.22,58.61 442.11,56.78 438.93,54.65"/></g>
<polygon fill="#3bc993" stroke-width="0.30" stroke-opacity="0.90" points="427.76,147.15 430.95,149.27 435.84,147.43 435.84,147.16 432.65,145.04 427.76,146.88"/>
<polygon fill="#25c2ad" stroke-width="0.30" stroke-opacity="0.90" points="421.49,149.51 424.68,151.63 429.57,149.79 429.57,149.46 426.38,147.34 421.49,149.18"/>
<polygon fill="#02bac4" stroke-width="0.30" stroke-opacity="0.90" points="415.22,151.86 418.40,153.99 423.30,152.15 423.30,151.81 420.11,149.69 415.22,151.53"/>
<polygon fill="#15afd9" stroke-width="0.30" stroke-opacity="0.90" points="408.94,154.22 412.13,156.34 417.02,154.50 417.02,154.20 413.84,152.08 408.94,153.92"/>
<polygon fill="#22a1e4" stroke-width="0.30" stroke-opacity="0.90" points="402.67,156.58 405.86,158.70 410.75,156.86 410.75,156.72 407.56,154.60 402.67,156.44"/>
<polygon fill="#2b91ef" stroke-width="0.30" stroke-opacity="0.90" points="396.40,158.94 399.58,161.06 404.48,159.22 404.48,158.91 401.29,156.78 396.40,158.62"/>
<polygon fill="#307ffb" stroke-width="0.30" stroke-opacity="0.90" points="390.12,161.30 393.31,163.42 398.20,161.58 398.20,161.19 395.02,159.07 390.12,160.91"/>
<polygon fill="#416bfe" stroke-width="0.30" stroke-opacity="0.90" points="383.85,163.66 387.04,165.78 391.93,163.94 391.93,163.64 388.74,161.52 383.85,163.36"/>
<polygon fill="#4758f8" stroke-width="0.30" stroke-opacity="0.90" points="377.58,166.02 380.77,168.14 385.66,166.30 385.66,165.94 382.47,163.82 377.58,165.66"/>
<polygon fill="#4745e9" stroke-width="0.30" stroke-opacity="0.90" points="371.31,168.37 374.49,170.50 379.39,168.66 379.39,168.50 376.20,166.38 371.31,168.22"/>
<polygon fill="#4434ce" stroke-width="0.30" stroke-opacity="0.90" points="365.03,170.73 368.22,172.85 373.11,171.01 373.11,170.85 369.93,168.73 365.03,170.57"/>
<polygon fill="#3e26a8" stroke-width="0.30" stroke-opacity="0.90" points="358.76,173.09 361.95,175.21 366.84,173.37 366.84,173.21 363.65,171.09 358.76,172.93"/>
<polygon fill="#f9fb15" stroke-width="0.36" stroke-opacity="0.90" points="481.93,130.93 485.11,133.05 490.01,131.21 490.01,131.06 486.82,128.94 481.93,130.78"/>
<polygon fill="#f5e725" stroke-width="0.36" stroke-opacity="0.90" points="475.65,133.29 478.84,135.41 483.73,133.57 483.73,133.42 480.55,131.30 475.65,133.14"/>
<polygon fill="#fbd22f" stroke-width="0.36" stroke-opacity="0.90" points="469.38,135.65 472.57,137.77 477.46,135.93 477.46,135.69 474.27,133.57 469.38,135.40"/>
<polygon fill="#febe3c" stroke-width="0.36" stroke-opacity="0.90" points="463.11,138.01 466.30,140.13 471.19,138.29 471.19,138.12 468.00,136.00 463.11,137.83"/>
<polygon fill="#e4bb2c" stroke-width="0.36" stroke-opacity="0.90" points="456.84,140.36 460.02,142.49 464.92,140.65 464.92,140.25 461.73,138.13 456.84,139.97"/>
<polygon fill="#bec32e" stroke-width="0.36" stroke-opacity="0.90" points="450.56,142.72 453.75,144.85 458.64,143.01 458.64,142.78 455.46,140.66 450.56,142.50"/>
<g fill="#91ca4c" stroke-width="0.36" stroke-opacity="0.90"><polygon points="444.29,145.08 447.48,147.20 447.48,58.86 444.29,56.74"/><polygon points="447.48,147.20 452.37,145.36 452.37,57.02 447.48,58.86"/><polygon points="444.29,56.74 447.48,58.86 452.37,57.02 449.18,54.90"/></g>
<polygon fill="#61cd71" stroke-width="0.30" stroke-opacity="0.90" points="438.02,147.44 441.21,149.56 446.10,147.72 446.10,147.56 442.91,145.44 438.02,147.28"/>
<polygon fill="#3bc993" stroke-width="0.30" stroke-opacity="0.90" points="431.75,149.80 434.93,151.92 439.83,150.08 439.83,149.73 436.64,147.61 431.75,149.45"/>
<polygon fill="#25c2ad" stroke-width="0.30" stroke-opacity="0.90" points="425.47,152.16 428.66,154.28 433.55,152.44 433.55,152.15 430.37,150.03 425.47,151.87"/>
<polygon fill="#02bac4" stroke-width="0.30" stroke-opacity="0.90" points="419.20,154.52 422.39,156.64 427.28,154.80 427.28,154.42 424.09,152.30 419.20,154.14"/>
<polygon fill="#15afd9" stroke-width="0.30" stroke-opacity="0.90" points="412.93,156.87 416.11,159.00 421.01,157.16 421.01,156.84 417.82,154.72 412.93,156.56"/>
<polygon fill="#22a1e4" stroke-width="0.30" stroke-opacity="0.90" points="406.65,159.23 409.84,161.36 414.73,159.52 414.73,159.27 411.55,157.15 406.65,158.99"/>
<polygon fill="#2b91ef" stroke-width="0.30" stroke-opacity="0.90" points="400.38,161.59 403.57,163.71 408.46,161.87 408.46,161.67 405.27,159.55 400.38,161.39"/>
<polygon fill="#307ffb" stroke-width="0.30" stroke-opacity="0.90" points="394.11,163.95 397.30,166.07 402.19,164.23 402.19,163.97 399.00,161.85 394.11,163.69"/>
<polygon fill="#416bfe" stroke-width="0.30" stroke-opacity="0.90" points="387.84,166.31 391.02,168.43 395.92,166.59 395.92,166.40 392.73,164.28 387.84,166.12"/>
<polygon fill="#4758f8" stroke-width="0.30" stroke-opacity="0.90" points="381.56,168.67 384.75,170.79 389.64,168.95 389.64,168.74 386.46,166.62 381.56,168.46"/>
<polygon fill="#4745e9" stroke-width="0.30" stroke-opacity="0.90" points="375.29,171.03 378.48,173.15 383.37,171.31 383.37,170.95 380.18,168.83 375.29,170.67"/>
<polygon fill="#4434ce" stroke-width="0.30" stroke-opacity="0.90" points="369.02,173.39 372.21,175.51 377.10,173.67 377.10,173.29 373.91,171.17 369.02,173.01"/>
<polygon fill="#3e26a8" stroke-width="0.30" stroke-opacity="0.90" points="362.75,175.74 365.93,177.87 370.83,176.03 370.83,175.68 367.64,173.56 362.75,175.40"/>
<polygon fill="#f9fb15" stroke-width="0.36" stroke-opacity="0.90" points="485.91,133.58 489.10,135.70 493.99,133.86 493.99,133.49 490.80,131.37 485.91,133.21"/>
<polygon fill="#f5e725" stroke-width="0.36" stroke-opacity="0.90" points="479.64,135.94 482.83,138.06 487.72,136.22 487.72,136.02 484.53,133.90 479.64,135.74"/>
<polygon fill="#fbd22f" stroke-width="0.36" stroke-opacity="0.90" points="473.37,138.30 476.55,140.42 481.45,138.58 481.45,138.26 478.26,136.14 473.37,137.98"/>
<polygon fill="#febe3c" stroke-width="0.36" stroke-opacity="0.90" points="467.09,140.66 470.28,142.78 475.17,140.94 475.17,140.67 471.99,138.55 467.09,140.39"/>
<polygon fill="#e4bb2c" stroke-width="0.36" stroke-opacity="0.90" points="460.82,143.02 464.01,145.14 468.90,143.30 468.90,143.14 465.71,141.02 460.82,142.86"/>
<g fill="#bec32e" stroke-width="0.36" stroke-opacity="0.90"><polygon points="454.55,145.38 457.73,147.50 457.73,59.10 454.55,56.98"/><polygon points="457.73,147.50 462.63,145.66 462.63,57.26 457.73,59.10"/><polygon points="454.55,56.98 457.73,59.10 462.63,57.26 459.44,55.14"/></g>
<polygon fill="#91ca4c" stroke-width="0.30" stroke-opacity="0.90" points="448.27,147.73 451.46,149.86 456.35,148.02 456.35,147.68 453.17,145.56 448.27,147.40"/>
<polygon fill="#61cd71" stroke-width="0.30" stroke-opacity="0.90" points="442.00,150.09 445.19,152.21 450.08,150.37 450.08,149.99 446.89,147.87 442.00,149.71"/>
<polygon fill="#3bc993" stroke-width="0.30" stroke-opacity="0.90" points="435.73,152.45 438.92,154.57 443.81,152.73 443.81,152.46 440.62,150.34 435.73,152.18"/>
<polygon fill="#25c2ad" stroke-width="0.30" stroke-opacity="0.90" points="429.46,154.81 432.64,156.93 437.54,155.09 437.54,154.93 434.35,152.81 429.46,154.65"/>
<polygon fill="#02bac4" stroke-width="0.30" stroke-opacity="0.90" points="423.18,157.17 426.37,159.29 431.26,157.45 431.26,157.18 428.08,155.06 423.18,156.90"/>
<polygon fill="#15afd9" stroke-width="0.30" stroke-opacity="0.90" points="416.91,159.53 420.10,161.65 424.99,159.81 424.99,159.56 421.80,157.44 416.91,159.28"/>
<polygon fill="#22a1e4" stroke-width="0.30" stroke-opacity="0.90" points="410.64,161.89 413.83,164.01 418.72,162.17 418.72,161.85 415.53,159.73 410.64,161.57"/>
<polygon fill="#2b91ef" stroke-width="0.30" stroke-opacity="0.90" points="404.37,164.24 407.55,166.37 412.45,164.53 412.45,164.22 409.26,162.09 404.37,163.93"/>
<polygon fill="#307ffb" stroke-width="0.30" stroke-opacity="0.90" points="398.09,166.60 401.28,168.72 406.17,166.88 406.17,166.69 402.99,164.57 398.09,166.41"/>
<polygon fill="#416bfe" stroke-width="0.30" stroke-opacity="0.90" points="391.82,168.96 395.01,171.08 399.90,169.24 399.90,169.03 396.71,166.91 391.82,168.75"/>
<polygon fill="#4758f8" stroke-width="0.30" stroke-opacity="0.90" points="385.55,171.32 388.73,173.44 393.63,171.60 393.63,171.44 390.44,169.31 385.55,171.15"/>
<polygon fill="#4745e9" stroke-width="0.30" stroke-opacity="0.90" points="379.27,173.68 382.46,175.80 387.35,173.96 387.35,173.66 384.17,171.53 379.27,173.37"/>
<polygon fill="#4434ce" stroke-width="0.30" stroke-opacity="0.90" points="373.00,176.04 376.19,178.16 381.08,176.32 381.08,175.92 377.89,173.80 373.00,175.64"/>
<polygon fill="#3e26a8" stroke-width="0.30" stroke-opacity="0.90" points="366.73,178.40 369.92,180.52 374.81,178.68 374.81,178.31 371.62,176.19 366.73,178.03"/>
<polygon fill="#f9fb15" stroke-width="0.36" stroke-opacity="0.90" points="489.89,136.23 493.08,138.36 497.97,136.52 497.97,136.26 494.79,134.14 489.89,135.98"/>
<polygon fill="#f5e725" stroke-width="0.36" stroke-opacity="0.90" points="483.62,138.59 486.81,140.71 491.70,138.87 491.70,138.56 488.51,136.43 483.62,138.27"/>
<polygon fill="#fbd22f" stroke-width="0.36" stroke-opacity="0.90" points="477.35,140.95 480.54,143.07 485.43,141.23 485.43,140.85 482.24,138.73 477.35,140.57"/>
<polygon fill="#febe3c" stroke-width="0.36" stroke-opacity="0.90" points="471.08,143.31 474.26,145.43 479.16,143.59 479.16,143.27 475.97,141.15 471.08,142.99"/>
<g fill="#e4bb2c" stroke-width="0.36" stroke-opacity="0.90"><polygon points="464.80,145.67 467.99,147.79 467.99,59.34 464.80,57.22"/><polygon points="467.99,147.79 472.88,145.95 472.88,57.50 467.99,59.34"/><polygon points="464.80,57.22 467.99,59.34 472.88,57.50 469.70,55.38"/></g>
<polygon fill="#bec32e" stroke-width="0.30" stroke-opacity="0.90" points="458.53,148.03 461.72,150.15 466.61,148.31 466.61,148.07 463.42,145.95 458.53,147.79"/>
<polygon fill="#91ca4c" stroke-width="0.30" stroke-opacity="0.90" points="452.26,150.39 455.45,152.51 460.34,150.67 460.34,150.41 457.15,148.29 452.26,150.13"/>
<polygon fill="#61cd71" stroke-width="0.30" stroke-opacity="0.90" points="445.99,152.74 449.17,154.87 454.07,153.03 454.07,152.76 450.88,150.64 445.99,152.48"/>
<polygon fill="#3bc993" stroke-width="0.30" stroke-opacity="0.90" points="439.71,155.10 442.90,157.22 447.79,155.39 447.79,155.20 444.61,153.08 439.71,154.92"/>
<polygon fill="#25c2ad" stroke-width="0.30" stroke-opacity="0.90" points="433.44,157.46 436.63,159.58 441.52,157.74 441.52,157.38 438.33,155.26 433.44,157.10"/>
<polygon fill="#02bac4" stroke-width="0.30" stroke-opacity="0.90" points="427.17,159.82 430.35,161.94 435.25,160.10 435.25,159.81 432.06,157.69 427.17,159.53"/>
<polygon fill="#15afd9" stroke-width="0.30" stroke-opacity="0.90" points="420.89,162.18 424.08,164.30 428.97,162.46 428.97,162.32 425.79,160.20 420.89,162.04"/>
<polygon fill="#22a1e4" stroke-width="0.30" stroke-opacity="0.90" points="414.62,164.54 417.81,166.66 422.70,164.82 422.70,164.57 419.51,162.45 414.62,164.29"/>
<polygon fill="#2b91ef" stroke-width="0.30" stroke-opacity="0.90" points="408.35,166.90 411.54,169.02 416.43,167.18 416.43,167.01 413.24,164.89 408.35,166.73"/>
<polygon fill="#307ffb" stroke-width="0.30" stroke-opacity="0.90" points="402.08,169.25 405.26,171.38 410.16,169.54 410.16,169.25 406.97,167.13 402.08,168.97"/>
<polygon fill="#416bfe" stroke-width="0.30" stroke-opacity="0.90" points="395.80,171.61 398.99,173.73 403.88,171.90 403.88,171.56 400.70,169.43 395.80,171.27"/>
<polygon fill="#4758f8" stroke-width="0.30" stroke-opacity="0.90" points="389.53,173.97 392.72,176.09 397.61,174.25 397.61,173.86 394.42,171.74 389.53,173.58"/>
<polygon fill="#4745e9" stroke-width="0.30" stroke-opacity="0.90" points="383.26,176.33 386.45,178.45 391.34,176.61 391.34,176.37 388.15,174.25 383.26,176.09"/>
<polygon fill="#4434ce" stroke-width="0.30" stroke-opacity="0.90" points="376.99,178.69 380.17,180.81 385.07,178.97 385.07,178.65 381.88,176.53 376.99,178.37"/>
<polygon fill="#3e26a8" stroke-width="0.30" stroke-opacity="0.90" points="370.71,181.05 373.90,183.17 378.79,181.33 378.79,181.07 375.61,178.95 370.71,180.79"/>
<polygon fill="#f9fb15" stroke-width="0.36" stroke-opacity="0.90" points="493.88,138.89 497.07,141.01 501.96,139.17 501.96,139.03 498.77,136.91 493.88,138.75"/>
<polygon fill="#f5e725" stroke-width="0.36" stroke-opacity="0.90" points="487.61,141.25 490.79,143.37 495.69,141.53 495.69,141.18 492.50,139.06 487.61,140.90"/>
<polygon fill="#fbd22f" stroke-width="0.36" stroke-opacity="0.90" points="481.33,143.60 484.52,145.73 489.41,143.89 489.41,143.58 486.23,141.46 481.33,143.30"/>
<g fill="#febe3c" stroke-width="0.36" stroke-opacity="0.90"><polygon points="475.06,145.96 478.25,148.08 478.25,59.58 475.06,57.46"/><polygon points="478.25,148.08 483.14,146.24 483.14,57.74 478.25,59.58"/><polygon points="475.06,57.46 478.25,59.58 483.14,57.74 479.95,55.62"/></g>
<polygon fill="#e4bb2c" stroke-width="0.30" stroke-opacity="0.90" points="468.79,148.32 471.98,150.44 476.87,148.60 476.87,148.24 473.68,146.11 468.79,147.95"/>
<polygon fill="#bec32e" stroke-width="0.30" stroke-opacity="0.90" points="462.52,150.68 465.70,152.80 470.60,150.96 470.60,150.64 467.41,148.52 462.52,150.36"/>
<polygon fill="#91ca4c" stroke-width="0.30" stroke-opacity="0.90" points="456.24,153.04 459.43,155.16 464.32,153.32 464.32,153.06 461.14,150.94 456.24,152.78"/>
<polygon fill="#61cd71" stroke-width="0.30" stroke-opacity="0.90" points="449.97,155.40 453.16,157.52 458.05,155.68 458.05,155.54 454.86,153.42 449.97,155.26"/>
<polygon fill="#3bc993" stroke-width="0.30" stroke-opacity="0.90" points="443.70,157.76 446.88,159.88 451.78,158.04 451.78,157.74 448.59,155.61 443.70,157.45"/>
<polygon fill="#25c2ad" stroke-width="0.30" stroke-opacity="0.90" points="437.42,160.11 440.61,162.24 445.50,160.40 445.50,160.00 442.32,157.88 437.42,159.72"/>
<polygon fill="#02bac4" stroke-width="0.30" stroke-opacity="0.90" points="431.15,162.47 434.34,164.59 439.23,162.75 439.23,162.45 436.04,160.32 431.15,162.16"/>
<polygon fill="#15afd9" stroke-width="0.30" stroke-opacity="0.90" points="424.88,164.83 428.07,166.95 432.96,165.11 432.96,164.87 429.77,162.75 424.88,164.59"/>
<polygon fill="#22a1e4" stroke-width="0.30" stroke-opacity="0.90" points="418.61,167.19 421.79,169.31 426.69,167.47 426.69,167.17 423.50,165.05 418.61,166.89"/>
<polygon fill="#2b91ef" stroke-width="0.30" stroke-opacity="0.90" points="412.33,169.55 415.52,171.67 420.41,169.83 420.41,169.64 417.23,167.52 412.33,169.36"/>
<polygon fill="#307ffb" stroke-width="0.30" stroke-opacity="0.90" points="406.06,171.91 409.25,174.03 414.14,172.19 414.14,171.83 410.95,169.71 406.06,171.55"/>
<polygon fill="#416bfe" stroke-width="0.30" stroke-opacity="0.90" points="399.79,174.27 402.98,176.39 407.87,174.55 407.87,174.21 404.68,172.09 399.79,173.93"/>
<polygon fill="#4758f8" stroke-width="0.30" stroke-opacity="0.90" points="393.52,176.62 396.70,178.75 401.60,176.91 401.60,176.60 398.41,174.48 393.52,176.32"/>
<polygon fill="#4745e9" stroke-width="0.30" stroke-opacity="0.90" points="387.24,178.98 390.43,181.10 395.32,179.26 395.32,178.93 392.14,176.81 387.24,178.65"/>
<polygon fill="#4434ce" stroke-width="0.30" stroke-opacity="0.90" points="380.97,181.34 384.16,183.46 389.05,181.62 389.05,181.40 385.86,179.28 380.97,181.12"/>
<polygon fill="#3e26a8" stroke-width="0.30" stroke-opacity="0.90" points="374.70,183.70 377.88,185.82 382.78,183.98 382.78,183.59 379.59,181.47 374.70,183.31"/>
<polygon fill="#f9fb15" stroke-width="0.36" stroke-opacity="0.90" points="497.86,141.54 501.05,143.66 505.94,141.82 505.94,141.56 502.76,139.44 497.86,141.28"/>
<polygon fill="#f5e725" stroke-width="0.36" stroke-opacity="0.90" points="491.59,143.90 494.78,146.02 499.67,144.18 499.67,143.90 496.48,141.77 491.59,143.61"/>
<g fill="#fbd22f" stroke-width="0.36" stroke-opacity="0.90"><polygon points="485.32,146.26 488.50,148.38 488.50,59.83 485.32,57.70"/><polygon points="488.50,148.38 493.40,146.54 493.40,57.99 488.50,59.83"/><polygon points="485.32,57.70 488.50,59.83 493.40,57.99 490.21,55.86"/></g>
<polygon fill="#febe3c" stroke-width="0.30" stroke-opacity="0.90" points="479.04,148.61 482.23,150.74 487.12,148.90 487.12,148.70 483.94,146.57 479.04,148.41"/>
<polygon fill="#e4bb2c" stroke-width="0.30" stroke-opacity="0.90" points="472.77,150.97 475.96,153.09 480.85,151.25 480.85,151.01 477.66,148.89 472.77,150.73"/>
<polygon fill="#bec32e" stroke-width="0.30" stroke-opacity="0.90" points="466.50,153.33 469.69,155.45 474.58,153.61 474.58,153.32 471.39,151.20 466.50,153.04"/>
<polygon fill="#91ca4c" stroke-width="0.30" stroke-opacity="0.90" points="460.23,155.69 463.41,157.81 468.31,155.97 468.31,155.80 465.12,153.68 460.23,155.52"/>
<polygon fill="#61cd71" stroke-width="0.30" stroke-opacity="0.90" points="453.95,158.05 457.14,160.17 462.03,158.33 462.03,157.99 458.85,155.86 453.95,157.70"/>
<polygon fill="#3bc993" stroke-width="0.30" stroke-opacity="0.90" points="447.68,160.41 450.87,162.53 455.76,160.69 455.76,160.51 452.57,158.38 447.68,160.22"/>
<polygon fill="#25c2ad" stroke-width="0.30" stroke-opacity="0.90" points="441.41,162.77 444.60,164.89 449.49,163.05 449.49,162.76 446.30,160.64 441.41,162.48"/>
<polygon fill="#02bac4" stroke-width="0.30" stroke-opacity="0.90" points="435.14,165.12 438.32,167.25 443.22,165.41 443.22,165.08 440.03,162.96 435.14,164.79"/>
<polygon fill="#15afd9" stroke-width="0.30" stroke-opacity="0.90" points="428.86,167.48 432.05,169.60 436.94,167.76 436.94,167.58 433.76,165.46 428.86,167.30"/>
<polygon fill="#22a1e4" stroke-width="0.30" stroke-opacity="0.90" points="422.59,169.84 425.78,171.96 430.67,170.12 430.67,169.79 427.48,167.67 422.59,169.51"/>
<polygon fill="#2b91ef" stroke-width="0.30" stroke-opacity="0.90" points="416.32,172.20 419.50,174.32 424.40,172.48 424.40,172.13 421.21,170.01 416.32,171.85"/>
<polygon fill="#307ffb" stroke-width="0.30" stroke-opacity="0.90" points="410.04,174.56 413.23,176.68 418.12,174.84 418.12,174.68 414.94,172.56 410.04,174.40"/>
<polygon fill="#416bfe" stroke-width="0.30" stroke-opacity="0.90" points="403.77,176.92 406.96,179.04 411.85,177.20 411.85,176.83 408.66,174.71 403.77,176.55"/>
<polygon fill="#4758f8" stroke-width="0.30" stroke-opacity="0.90" points="397.50,179.28 400.69,181.40 405.58,179.56 405.58,179.19 402.39,177.06 397.50,178.90"/>
<polygon fill="#4745e9" stroke-width="0.30" stroke-opacity="0.90" points="391.23,181.63 394.41,183.76 399.31,181.92 399.31,181.62 396.12,179.50 391.23,181.34"/>
<polygon fill="#4434ce" stroke-width="0.30" stroke-opacity="0.90" points="384.95,183.99 388.14,186.11 393.03,184.27 393.03,183.95 389.85,181.83 384.95,183.67"/>
<polygon fill="#3e26a8" stroke-width="0.30" stroke-opacity="0.90" points="378.68,186.35 381.87,188.47 386.76,186.63 386.76,186.25 383.57,184.13 378.68,185.97"/>
<polygon fill="#f9fb15" stroke-width="0.36" stroke-opacity="0.90" points="501.85,144.19 505.03,146.31 509.93,144.47 509.93,144.13 506.74,142.01 501.85,143.85"/>
<g fill="#f5e725" stroke-width="0.36" stroke-opacity="0.90"><polygon points="495.57,146.55 498.76,148.67 498.76,60.07 495.57,57.95"/><polygon points="498.76,148.67 503.65,146.83 503.65,58.23 498.76,60.07"/><polygon points="495.57,57.95 498.76,60.07 503.65,58.23 500.47,56.11"/></g>
<polygon fill="#fbd22f" stroke-width="0.30" stroke-opacity="0.90" points="489.30,148.91 492.49,151.03 497.38,149.19 497.38,148.86 494.19,146.74 489.30,148.58"/>
<polygon fill="#febe3c" stroke-width="0.30" stroke-opacity="0.90" points="483.03,151.27 486.22,153.39 491.11,151.55 491.11,151.37 487.92,149.25 483.03,151.09"/>
<polygon fill="#e4bb2c" stroke-width="0.30" stroke-opacity="0.90" points="476.76,153.62 479.94,155.75 484.84,153.91 484.84,153.57 481.65,151.45 476.76,153.29"/>
<polygon fill="#bec32e" stroke-width="0.30" stroke-opacity="0.90" points="470.48,155.98 473.67,158.11 478.56,156.27 478.56,156.11 475.38,153.99 470.48,155.83"/>
<polygon fill="#91ca4c" stroke-width="0.30" stroke-opacity="0.90" points="464.21,158.34 467.40,160.46 472.29,158.62 472.29,158.48 469.10,156.36 464.21,158.20"/>
<polygon fill="#61cd71" stroke-width="0.30" stroke-opacity="0.90" points="457.94,160.70 461.13,162.82 466.02,160.98 466.02,160.72 462.83,158.60 457.94,160.43"/>
<polygon fill="#3bc993" stroke-width="0.30" stroke-opacity="0.90" points="451.67,163.06 454.85,165.18 459.75,163.34 459.75,163.14 456.56,161.02 451.67,162.86"/>
<polygon fill="#25c2ad" stroke-width="0.30" stroke-opacity="0.90" points="445.39,165.42 448.58,167.54 453.47,165.70 453.47,165.48 450.29,163.36 445.39,165.20"/>
<polygon fill="#02bac4" stroke-width="0.30" stroke-opacity="0.90" points="439.12,167.78 442.31,169.90 447.20,168.06 447.20,167.75 444.01,165.63 439.12,167.47"/>
<polygon fill="#15afd9" stroke-width="0.30" stroke-opacity="0.90" points="432.85,170.13 436.03,172.26 440.93,170.42 440.93,170.16 437.74,168.03 432.85,169.87"/>
<polygon fill="#22a1e4" stroke-width="0.30" stroke-opacity="0.90" points="426.57,172.49 429.76,174.62 434.65,172.78 434.65,172.44 431.47,170.32 426.57,172.16"/>
<polygon fill="#2b91ef" stroke-width="0.30" stroke-opacity="0.90" points="420.30,174.85 423.49,176.97 428.38,175.13 428.38,174.83 425.19,172.71 420.30,174.55"/>
<polygon fill="#307ffb" stroke-width="0.30" stroke-opacity="0.90" points="414.03,177.21 417.22,179.33 422.11,177.49 422.11,177.14 418.92,175.02 414.03,176.86"/>
<polygon fill="#416bfe" stroke-width="0.30" stroke-opacity="0.90" points="407.76,179.57 410.94,181.69 415.84,179.85 415.84,179.59 412.65,177.47 407.76,179.31"/>
<polygon fill="#4758f8" stroke-width="0.30" stroke-opacity="0.90" points="401.48,181.93 404.67,184.05 409.56,182.21 409.56,182.08 406.38,179.95 401.48,181.79"/>
<polygon fill="#4745e9" stroke-width="0.30" stroke-opacity="0.90" points="395.21,184.29 398.40,186.41 403.29,184.57 403.29,184.42 400.10,182.30 395.21,184.13"/>
<polygon fill="#4434ce" stroke-width="0.30" stroke-opacity="0.90" points="388.94,186.65 392.13,188.77 397.02,186.93 397.02,186.54 393.83,184.42 388.94,186.26"/>
<polygon fill="#3e26a8" stroke-width="0.30" stroke-opacity="0.90" points="382.67,189.00 385.85,191.13 390.75,189.29 390.75,189.10 387.56,186.98 382.67,188.82"/>
<g fill="#f9fb15" stroke-width="0.36" stroke-opacity="0.90"><polygon points="505.83,146.84 509.02,148.96 509.02,60.31 505.83,58.19"/><polygon points="509.02,148.96 513.91,147.12 513.91,58.47 509.02,60.31"/><polygon points="505.83,58.19 509.02,60.31 513.91,58.47 510.72,56.35"/></g>
<polygon fill="#f5e725" stroke-width="0.30" stroke-opacity="0.90" points="499.56,149.20 502.75,151.32 507.64,149.48 507.64,149.18 504.45,147.06 499.56,148.90"/>
<polygon fill="#fbd22f" stroke-width="0.30" stroke-opacity="0.90" points="493.29,151.56 496.47,153.68 501.37,151.84 501.37,151.63 498.18,149.51 493.29,151.35"/>
<polygon fill="#febe3c" stroke-width="0.30" stroke-opacity="0.90" points="487.01,153.92 490.20,156.04 495.09,154.20 495.09,153.84 491.91,151.72 487.01,153.56"/>
<polygon fill="#e4bb2c" stroke-width="0.30" stroke-opacity="0.90" points="480.74,156.28 483.93,158.40 488.82,156.56 488.82,156.31 485.63,154.19 480.74,156.03"/>
<polygon fill="#bec32e" stroke-width="0.30" stroke-opacity="0.90" points="474.47,158.64 477.65,160.76 482.55,158.92 482.55,158.68 479.36,156.56 474.47,158.40"/>
<polygon fill="#91ca4c" stroke-width="0.30" stroke-opacity="0.90" points="468.19,160.99 471.38,163.12 476.27,161.28 476.27,161.00 473.09,158.88 468.19,160.72"/>
<polygon fill="#61cd71" stroke-width="0.30" stroke-opacity="0.90" points="461.92,163.35 465.11,165.47 470.00,163.63 470.00,163.40 466.81,161.28 461.92,163.12"/>
<polygon fill="#3bc993" stroke-width="0.30" stroke-opacity="0.90" points="455.65,165.71 458.84,167.83 463.73,165.99 463.73,165.60 460.54,163.48 455.65,165.32"/>
<polygon fill="#25c2ad" stroke-width="0.30" stroke-opacity="0.90" points="449.38,168.07 452.56,170.19 457.46,168.35 457.46,168.07 454.27,165.95 449.38,167.79"/>
<polygon fill="#02bac4" stroke-width="0.30" stroke-opacity="0.90" points="443.10,170.43 446.29,172.55 451.18,170.71 451.18,170.58 448.00,168.45 443.10,170.29"/>
<polygon fill="#15afd9" stroke-width="0.30" stroke-opacity="0.90" points="436.83,172.79 440.02,174.91 444.91,173.07 444.91,172.86 441.72,170.74 436.83,172.58"/>
<polygon fill="#22a1e4" stroke-width="0.30" stroke-opacity="0.90" points="430.56,175.15 433.75,177.27 438.64,175.43 438.64,175.17 435.45,173.05 430.56,174.89"/>
<polygon fill="#2b91ef" stroke-width="0.30" stroke-opacity="0.90" points="424.29,177.50 427.47,179.63 432.37,177.79 432.37,177.55 429.18,175.43 424.29,177.27"/>
<polygon fill="#307ffb" stroke-width="0.30" stroke-opacity="0.90" points="418.01,179.86 421.20,181.98 426.09,180.14 426.09,179.97 422.91,177.85 418.01,179.69"/>
<polygon fill="#416bfe" stroke-width="0.30" stroke-opacity="0.90" points="411.74,182.22 414.93,184.34 419.82,182.50 419.82,182.33 416.63,180.21 411.74,182.05"/>
<polygon fill="#4758f8" stroke-width="0.30" stroke-opacity="0.90" points="405.47,184.58 408.65,186.70 413.55,184.86 413.55,184.50 410.36,182.38 405.47,184.22"/>
<polygon fill="#4745e9" stroke-width="0.30" stroke-opacity="0.90" points="399.19,186.94 402.38,189.06 407.27,187.22 407.27,186.88 404.09,184.76 399.19,186.60"/>
<polygon fill="#4434ce" stroke-width="0.30" stroke-opacity="0.90" points="392.92,189.30 396.11,191.42 401.00,189.58 401.00,189.27 397.81,187.15 392.92,188.99"/>
<polygon fill="#3e26a8" stroke-width="0.30" stroke-opacity="0.90" points="386.65,191.66 389.84,193.78 394.73,191.94 394.73,191.70 391.54,189.58 386.65,191.42"/>
</g>
<g fill="none" stroke="#262626" stroke-width="0.6">
<path d="M308.50 51.40L308.50 139.70L408.10 206.00L532.30 159.30"/>
<path d="M308.50 139.70l-2.9 -1.5"/>
<path d="M308.50 122.04l-2.9 -1.5"/>
<path d="M308.50 104.38l-2.9 -1.5"/>
<path d="M308.50 86.72l-2.9 -1.5"/>
<path d="M308.50 69.06l-2.9 -1.5"/>
<path d="M308.50 51.40l-2.9 -1.5"/>
<path d="M308.50 139.70l-2.4 0.95"/>
<path d="M328.42 152.96l-2.4 0.95"/>
<path d="M348.34 166.22l-2.4 0.95"/>
<path d="M368.26 179.48l-2.4 0.95"/>
<path d="M388.18 192.74l-2.4 0.95"/>
<path d="M408.10 206.00l-2.4 0.95"/>
<path d="M435.70 195.62l2.0 1.35"/>
<path d="M467.06 183.83l2.0 1.35"/>
<path d="M498.43 172.04l2.0 1.35"/>
<path d="M529.79 160.24l2.0 1.35"/>
</g>
<g font-family="'Liberation Sans', 'Noto Sans CJK SC', sans-serif" font-size="6.60" fill="#151515">
<text x="303.30" y="140.00" text-anchor="end">0</text>
<text x="303.30" y="122.34" text-anchor="end">0.2</text>
<text x="303.30" y="104.68" text-anchor="end">0.4</text>
<text x="303.30" y="87.02" text-anchor="end">0.6</text>
<text x="303.30" y="69.36" text-anchor="end">0.8</text>
<text x="303.30" y="51.70" text-anchor="end">1</text>
<text x="303.40" y="149.00" text-anchor="end">0</text>
<text x="323.32" y="162.26" text-anchor="end">5</text>
<text x="343.24" y="175.52" text-anchor="end">10</text>
<text x="363.16" y="188.78" text-anchor="end">15</text>
<text x="383.08" y="202.04" text-anchor="end">20</text>
<text x="403.00" y="215.30" text-anchor="end">25</text>
<text x="441.00" y="205.32">5</text>
<text x="472.36" y="193.53">10</text>
<text x="503.73" y="181.74">15</text>
<text x="535.09" y="169.94">20</text>
<text transform="translate(296.50 160.50) rotate(34.8)" font-size="7.07">Mode shapes of substructure <tspan dx="0.6">Ⅱ</tspan></text>
<text transform="translate(450.50 221.50) rotate(-23.4)" font-size="7.07">Mode shapes of full model</text>
</g>
<g font-family="'Liberation Serif', 'Noto Serif CJK SC', serif" font-size="9.8" fill="#0a0a0a" word-spacing="-1.1">
<text x="13.2" y="237.6" textLength="223" lengthAdjust="spacingAndGlyphs">a. Comparison of MAC between full model and substructure</text>
<text x="296.3" y="237.6" textLength="224" lengthAdjust="spacingAndGlyphs">b. Comparison of MAC between full model and substructure</text>
</g>
<g font-family="'Liberation Sans', 'Noto Sans CJK SC', sans-serif" font-size="8.6" fill="#333" text-anchor="middle">
<text x="241.8" y="237.4">Ⅰ</text>
<text x="527.5" y="237.4">Ⅱ</text>
</g>
</svg>
</body></html>
